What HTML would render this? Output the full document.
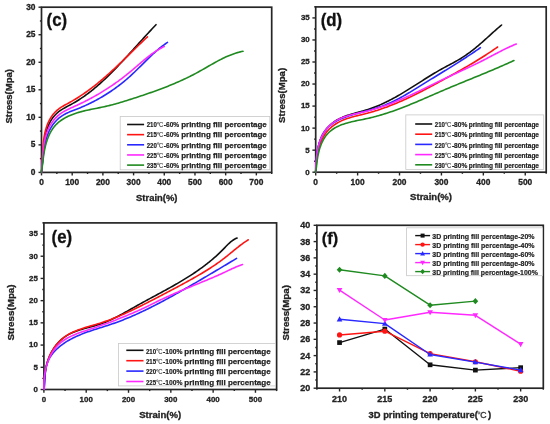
<!DOCTYPE html><html><head><meta charset="utf-8"><style>html,body{margin:0;padding:0;background:#fff;} svg{display:block;font-family:"Liberation Sans", sans-serif;will-change:transform;}</style></head><body>
<svg width="550" height="424" viewBox="0 0 550 424">
<rect width="550" height="424" fill="#fff"/>
<rect x="41.50" y="7.20" width="230.20" height="165.20" fill="none" stroke="#262626" stroke-width="1.7"/>
<line x1="41.50" y1="172.40" x2="41.50" y2="175.40" stroke="#262626" stroke-width="1.4" />
<text x="41.50" y="184.70" font-size="8.4" text-anchor="middle" font-weight="bold" fill="#222" stroke="#222" stroke-width="0.3" >0</text>
<line x1="56.85" y1="172.40" x2="56.85" y2="174.00" stroke="#262626" stroke-width="1.4" />
<line x1="72.19" y1="172.40" x2="72.19" y2="175.40" stroke="#262626" stroke-width="1.4" />
<text x="72.19" y="184.70" font-size="8.4" text-anchor="middle" font-weight="bold" fill="#222" stroke="#222" stroke-width="0.3" >100</text>
<line x1="87.54" y1="172.40" x2="87.54" y2="174.00" stroke="#262626" stroke-width="1.4" />
<line x1="102.89" y1="172.40" x2="102.89" y2="175.40" stroke="#262626" stroke-width="1.4" />
<text x="102.89" y="184.70" font-size="8.4" text-anchor="middle" font-weight="bold" fill="#222" stroke="#222" stroke-width="0.3" >200</text>
<line x1="118.23" y1="172.40" x2="118.23" y2="174.00" stroke="#262626" stroke-width="1.4" />
<line x1="133.58" y1="172.40" x2="133.58" y2="175.40" stroke="#262626" stroke-width="1.4" />
<text x="133.58" y="184.70" font-size="8.4" text-anchor="middle" font-weight="bold" fill="#222" stroke="#222" stroke-width="0.3" >300</text>
<line x1="148.93" y1="172.40" x2="148.93" y2="174.00" stroke="#262626" stroke-width="1.4" />
<line x1="164.27" y1="172.40" x2="164.27" y2="175.40" stroke="#262626" stroke-width="1.4" />
<text x="164.27" y="184.70" font-size="8.4" text-anchor="middle" font-weight="bold" fill="#222" stroke="#222" stroke-width="0.3" >400</text>
<line x1="179.62" y1="172.40" x2="179.62" y2="174.00" stroke="#262626" stroke-width="1.4" />
<line x1="194.97" y1="172.40" x2="194.97" y2="175.40" stroke="#262626" stroke-width="1.4" />
<text x="194.97" y="184.70" font-size="8.4" text-anchor="middle" font-weight="bold" fill="#222" stroke="#222" stroke-width="0.3" >500</text>
<line x1="210.31" y1="172.40" x2="210.31" y2="174.00" stroke="#262626" stroke-width="1.4" />
<line x1="225.66" y1="172.40" x2="225.66" y2="175.40" stroke="#262626" stroke-width="1.4" />
<text x="225.66" y="184.70" font-size="8.4" text-anchor="middle" font-weight="bold" fill="#222" stroke="#222" stroke-width="0.3" >600</text>
<line x1="241.01" y1="172.40" x2="241.01" y2="174.00" stroke="#262626" stroke-width="1.4" />
<line x1="256.35" y1="172.40" x2="256.35" y2="175.40" stroke="#262626" stroke-width="1.4" />
<text x="256.35" y="184.70" font-size="8.4" text-anchor="middle" font-weight="bold" fill="#222" stroke="#222" stroke-width="0.3" >700</text>
<line x1="271.70" y1="172.40" x2="271.70" y2="174.00" stroke="#262626" stroke-width="1.4" />
<line x1="41.50" y1="172.40" x2="38.50" y2="172.40" stroke="#262626" stroke-width="1.4" />
<text x="35.50" y="174.90" font-size="8.4" text-anchor="end" font-weight="bold" fill="#222" stroke="#222" stroke-width="0.3" >0</text>
<line x1="41.50" y1="158.63" x2="39.90" y2="158.63" stroke="#262626" stroke-width="1.4" />
<line x1="41.50" y1="144.87" x2="38.50" y2="144.87" stroke="#262626" stroke-width="1.4" />
<text x="35.50" y="147.37" font-size="8.4" text-anchor="end" font-weight="bold" fill="#222" stroke="#222" stroke-width="0.3" >5</text>
<line x1="41.50" y1="131.10" x2="39.90" y2="131.10" stroke="#262626" stroke-width="1.4" />
<line x1="41.50" y1="117.33" x2="38.50" y2="117.33" stroke="#262626" stroke-width="1.4" />
<text x="35.50" y="119.83" font-size="8.4" text-anchor="end" font-weight="bold" fill="#222" stroke="#222" stroke-width="0.3" >10</text>
<line x1="41.50" y1="103.57" x2="39.90" y2="103.57" stroke="#262626" stroke-width="1.4" />
<line x1="41.50" y1="89.80" x2="38.50" y2="89.80" stroke="#262626" stroke-width="1.4" />
<text x="35.50" y="92.30" font-size="8.4" text-anchor="end" font-weight="bold" fill="#222" stroke="#222" stroke-width="0.3" >15</text>
<line x1="41.50" y1="76.03" x2="39.90" y2="76.03" stroke="#262626" stroke-width="1.4" />
<line x1="41.50" y1="62.27" x2="38.50" y2="62.27" stroke="#262626" stroke-width="1.4" />
<text x="35.50" y="64.77" font-size="8.4" text-anchor="end" font-weight="bold" fill="#222" stroke="#222" stroke-width="0.3" >20</text>
<line x1="41.50" y1="48.50" x2="39.90" y2="48.50" stroke="#262626" stroke-width="1.4" />
<line x1="41.50" y1="34.73" x2="38.50" y2="34.73" stroke="#262626" stroke-width="1.4" />
<text x="35.50" y="37.23" font-size="8.4" text-anchor="end" font-weight="bold" fill="#222" stroke="#222" stroke-width="0.3" >25</text>
<line x1="41.50" y1="20.97" x2="39.90" y2="20.97" stroke="#262626" stroke-width="1.4" />
<line x1="41.50" y1="7.20" x2="38.50" y2="7.20" stroke="#262626" stroke-width="1.4" />
<text x="35.50" y="9.70" font-size="8.4" text-anchor="end" font-weight="bold" fill="#222" stroke="#222" stroke-width="0.3" >30</text>
<text x="56.90" y="25.50" font-size="17.5" text-anchor="middle" font-weight="bold" fill="#111" stroke="#111" stroke-width="0.3" textLength="20.60" lengthAdjust="spacingAndGlyphs" >(c)</text>
<text x="156.75" y="200.50" font-size="9" text-anchor="middle" font-weight="bold" fill="#222" stroke="#222" stroke-width="0.3" textLength="41.30" lengthAdjust="spacingAndGlyphs" >Strain(%)</text>
<text x="0.00" y="0.00" font-size="9" text-anchor="middle" font-weight="bold" fill="#222" stroke="#222" stroke-width="0.3" textLength="54.50" lengthAdjust="spacingAndGlyphs" transform="translate(11.6,96.25) rotate(-90)">Stress(Mpa)</text>
<path d="M41.50,172.40 L41.61,171.02 L41.73,169.64 L41.85,168.26 L41.98,166.88 L42.11,165.49 L42.24,164.11 L42.38,162.71 L42.52,161.32 L42.66,159.92 L42.81,158.51 L42.95,157.10 L43.09,155.68 L43.24,154.26 L43.38,152.83 L43.52,151.39 L43.66,149.94 L43.80,148.48 L43.95,147.03 L44.10,145.57 L44.26,144.11 L44.43,142.65 L44.62,141.19 L44.82,139.74 L45.04,138.30 L45.28,136.86 L45.55,135.44 L45.84,134.02 L46.16,132.62 L46.51,131.24 L46.89,129.87 L47.31,128.53 L47.77,127.20 L48.27,125.90 L48.81,124.62 L49.40,123.36 L50.02,122.14 L50.69,120.94 L51.41,119.78 L52.16,118.64 L52.96,117.54 L53.80,116.47 L54.69,115.44 L55.62,114.45 L56.59,113.50 L57.61,112.59 L58.67,111.72 L59.77,110.89 L60.92,110.10 L62.10,109.35 L63.31,108.63 L64.54,107.93 L65.79,107.25 L67.05,106.58 L68.32,105.91 L69.59,105.24 L70.85,104.56 L72.11,103.87 L73.35,103.17 L74.58,102.46 L75.81,101.73 L77.02,100.99 L78.22,100.24 L79.41,99.48 L80.60,98.70 L81.77,97.92 L82.94,97.12 L84.10,96.32 L85.25,95.50 L86.39,94.67 L87.52,93.84 L88.64,92.99 L89.76,92.14 L90.87,91.27 L91.97,90.40 L93.07,89.52 L94.15,88.62 L95.23,87.73 L96.31,86.82 L97.37,85.90 L98.44,84.98 L99.49,84.05 L100.54,83.11 L101.58,82.17 L102.62,81.22 L103.65,80.26 L104.68,79.30 L105.70,78.33 L106.72,77.36 L107.74,76.38 L108.74,75.39 L109.75,74.40 L110.75,73.40 L111.75,72.41 L112.74,71.40 L113.73,70.39 L114.72,69.38 L115.70,68.37 L116.68,67.35 L117.66,66.33 L118.64,65.30 L119.61,64.28 L120.58,63.25 L121.55,62.21 L122.52,61.18 L123.49,60.14 L124.45,59.11 L125.41,58.07 L126.38,57.03 L127.34,55.98 L128.29,54.94 L129.25,53.89 L130.21,52.85 L131.16,51.80 L132.12,50.75 L133.07,49.70 L134.02,48.65 L134.98,47.60 L135.93,46.55 L136.88,45.50 L137.83,44.45 L138.78,43.40 L139.73,42.35 L140.68,41.30 L141.64,40.26 L142.59,39.21 L143.54,38.16 L144.49,37.12 L145.44,36.07 L146.40,35.03 L147.35,33.99 L148.31,32.95 L149.27,31.91 L150.22,30.87 L151.18,29.84 L152.14,28.80 L153.10,27.77 L154.07,26.75 L155.03,25.72 L156.00,24.70" fill="none" stroke="#111111" stroke-width="1.6" stroke-linejoin="round" stroke-linecap="round"/>
<path d="M41.50,172.40 L41.63,171.08 L41.76,169.74 L41.86,168.39 L41.96,167.02 L42.05,165.65 L42.12,164.25 L42.20,162.85 L42.26,161.44 L42.33,160.02 L42.39,158.59 L42.45,157.15 L42.51,155.71 L42.57,154.27 L42.64,152.82 L42.71,151.36 L42.80,149.91 L42.89,148.45 L42.99,147.00 L43.10,145.55 L43.23,144.10 L43.37,142.65 L43.53,141.21 L43.71,139.77 L43.91,138.34 L44.13,136.92 L44.37,135.51 L44.64,134.11 L44.93,132.72 L45.25,131.34 L45.60,129.97 L45.99,128.62 L46.40,127.28 L46.85,125.96 L47.33,124.66 L47.86,123.37 L48.41,122.11 L49.01,120.87 L49.64,119.66 L50.32,118.47 L51.03,117.31 L51.78,116.18 L52.58,115.08 L53.42,114.02 L54.30,113.00 L55.23,112.01 L56.19,111.06 L57.21,110.15 L58.27,109.29 L59.37,108.47 L60.52,107.69 L61.69,106.93 L62.90,106.21 L64.12,105.50 L65.36,104.81 L66.61,104.12 L67.87,103.44 L69.12,102.75 L70.37,102.06 L71.60,101.36 L72.83,100.65 L74.05,99.92 L75.27,99.19 L76.47,98.45 L77.67,97.70 L78.86,96.95 L80.05,96.18 L81.23,95.41 L82.40,94.62 L83.56,93.83 L84.72,93.03 L85.87,92.23 L87.01,91.41 L88.15,90.59 L89.28,89.76 L90.41,88.92 L91.53,88.08 L92.64,87.23 L93.75,86.37 L94.86,85.51 L95.95,84.64 L97.05,83.76 L98.14,82.88 L99.22,81.99 L100.30,81.10 L101.38,80.20 L102.45,79.29 L103.52,78.38 L104.58,77.46 L105.64,76.54 L106.69,75.61 L107.75,74.68 L108.80,73.75 L109.84,72.81 L110.88,71.86 L111.92,70.91 L112.96,69.96 L113.99,69.00 L115.03,68.04 L116.06,67.08 L117.08,66.12 L118.11,65.15 L119.13,64.18 L120.15,63.20 L121.17,62.23 L122.19,61.25 L123.20,60.27 L124.22,59.29 L125.23,58.31 L126.24,57.33 L127.26,56.34 L128.27,55.36 L129.28,54.37 L130.29,53.39 L131.29,52.40 L132.30,51.42 L133.31,50.43 L134.32,49.45 L135.33,48.46 L136.34,47.48 L137.35,46.50 L138.36,45.52 L139.37,44.54 L140.38,43.57 L141.40,42.59 L142.41,41.62 L143.42,40.65 L144.44,39.68 L145.46,38.72 L146.48,37.76 L147.50,36.80" fill="none" stroke="#ff1414" stroke-width="1.6" stroke-linejoin="round" stroke-linecap="round"/>
<path d="M41.50,172.40 L41.66,171.12 L41.81,169.82 L41.95,168.49 L42.09,167.15 L42.22,165.78 L42.36,164.40 L42.49,163.00 L42.63,161.60 L42.77,160.17 L42.92,158.74 L43.07,157.30 L43.23,155.86 L43.40,154.41 L43.58,152.96 L43.77,151.50 L43.98,150.05 L44.20,148.60 L44.44,147.15 L44.71,145.71 L44.99,144.27 L45.29,142.85 L45.62,141.44 L45.97,140.04 L46.35,138.65 L46.76,137.28 L47.20,135.93 L47.67,134.60 L48.17,133.29 L48.71,132.00 L49.29,130.74 L49.90,129.50 L50.56,128.29 L51.25,127.11 L51.98,125.97 L52.74,124.85 L53.55,123.76 L54.39,122.71 L55.27,121.69 L56.19,120.71 L57.14,119.76 L58.13,118.85 L59.15,117.97 L60.21,117.14 L61.30,116.34 L62.43,115.59 L63.60,114.87 L64.79,114.20 L66.02,113.56 L67.27,112.96 L68.55,112.38 L69.84,111.83 L71.15,111.29 L72.48,110.77 L73.81,110.25 L75.14,109.74 L76.47,109.22 L77.80,108.70 L79.13,108.18 L80.44,107.64 L81.76,107.09 L83.06,106.53 L84.36,105.96 L85.65,105.38 L86.94,104.79 L88.22,104.19 L89.49,103.58 L90.76,102.96 L92.02,102.34 L93.28,101.70 L94.52,101.05 L95.77,100.39 L97.00,99.73 L98.23,99.05 L99.45,98.36 L100.67,97.67 L101.88,96.96 L103.08,96.25 L104.28,95.53 L105.47,94.79 L106.65,94.05 L107.83,93.30 L109.00,92.53 L110.17,91.76 L111.32,90.98 L112.48,90.19 L113.62,89.39 L114.76,88.59 L115.89,87.77 L117.02,86.94 L118.13,86.10 L119.25,85.26 L120.35,84.40 L121.45,83.54 L122.54,82.67 L123.63,81.79 L124.71,80.89 L125.78,79.99 L126.85,79.09 L127.90,78.17 L128.96,77.24 L130.00,76.30 L131.04,75.36 L132.07,74.41 L133.10,73.44 L134.12,72.48 L135.14,71.50 L136.15,70.52 L137.16,69.53 L138.16,68.55 L139.17,67.55 L140.17,66.56 L141.17,65.56 L142.17,64.56 L143.17,63.57 L144.17,62.57 L145.17,61.58 L146.17,60.58 L147.18,59.59 L148.18,58.61 L149.20,57.63 L150.21,56.65 L151.23,55.68 L152.26,54.72 L153.29,53.76 L154.33,52.81 L155.37,51.88 L156.43,50.95 L157.49,50.03 L158.56,49.13 L159.63,48.24 L160.72,47.36 L161.82,46.49 L162.93,45.64 L164.06,44.81 L165.19,43.99 L166.34,43.18 L167.50,42.40" fill="none" stroke="#2828ff" stroke-width="1.6" stroke-linejoin="round" stroke-linecap="round"/>
<path d="M41.50,172.40 L41.62,171.10 L41.72,169.79 L41.83,168.45 L41.92,167.10 L42.01,165.73 L42.10,164.34 L42.19,162.94 L42.29,161.53 L42.38,160.10 L42.48,158.67 L42.58,157.23 L42.69,155.79 L42.81,154.34 L42.94,152.88 L43.08,151.43 L43.24,149.97 L43.41,148.52 L43.59,147.06 L43.80,145.62 L44.02,144.18 L44.27,142.74 L44.54,141.32 L44.83,139.90 L45.15,138.50 L45.50,137.11 L45.87,135.73 L46.28,134.37 L46.72,133.03 L47.19,131.71 L47.70,130.41 L48.24,129.13 L48.82,127.88 L49.45,126.65 L50.11,125.44 L50.81,124.27 L51.54,123.12 L52.32,122.00 L53.13,120.91 L53.98,119.86 L54.86,118.83 L55.78,117.84 L56.74,116.88 L57.74,115.96 L58.77,115.08 L59.83,114.23 L60.93,113.42 L62.07,112.66 L63.23,111.93 L64.43,111.23 L65.65,110.56 L66.89,109.92 L68.15,109.29 L69.43,108.69 L70.72,108.09 L72.01,107.51 L73.31,106.93 L74.61,106.34 L75.91,105.76 L77.20,105.16 L78.48,104.56 L79.77,103.96 L81.04,103.34 L82.32,102.72 L83.58,102.10 L84.85,101.47 L86.11,100.83 L87.36,100.18 L88.61,99.53 L89.85,98.87 L91.09,98.20 L92.33,97.53 L93.56,96.85 L94.79,96.17 L96.01,95.47 L97.23,94.77 L98.44,94.07 L99.65,93.36 L100.85,92.64 L102.05,91.91 L103.24,91.18 L104.43,90.44 L105.62,89.69 L106.80,88.94 L107.97,88.18 L109.14,87.42 L110.31,86.64 L111.47,85.86 L112.63,85.08 L113.78,84.28 L114.93,83.48 L116.07,82.68 L117.21,81.86 L118.34,81.04 L119.47,80.22 L120.60,79.38 L121.72,78.54 L122.84,77.69 L123.95,76.84 L125.06,75.98 L126.16,75.11 L127.26,74.23 L128.35,73.35 L129.44,72.46 L130.52,71.57 L131.60,70.66 L132.68,69.76 L133.75,68.84 L134.82,67.93 L135.89,67.01 L136.96,66.09 L138.03,65.17 L139.10,64.25 L140.16,63.33 L141.24,62.41 L142.31,61.50 L143.39,60.60 L144.47,59.70 L145.56,58.81 L146.65,57.92 L147.75,57.05 L148.85,56.19 L149.97,55.34 L151.09,54.51 L152.22,53.68 L153.36,52.88 L154.51,52.09 L155.68,51.31 L156.85,50.56 L158.04,49.83 L159.24,49.12 L160.46,48.43 L161.69,47.76 L162.94,47.12 L164.20,46.50" fill="none" stroke="#ff28ff" stroke-width="1.6" stroke-linejoin="round" stroke-linecap="round"/>
<path d="M41.50,172.40 L41.69,171.03 L41.87,169.65 L42.04,168.26 L42.21,166.86 L42.38,165.45 L42.54,164.03 L42.71,162.61 L42.88,161.18 L43.06,159.74 L43.25,158.31 L43.44,156.87 L43.65,155.43 L43.87,153.99 L44.10,152.55 L44.36,151.11 L44.63,149.68 L44.92,148.24 L45.24,146.82 L45.58,145.40 L45.95,143.99 L46.35,142.58 L46.78,141.19 L47.24,139.80 L47.74,138.43 L48.26,137.08 L48.83,135.75 L49.43,134.44 L50.06,133.15 L50.74,131.90 L51.45,130.67 L52.20,129.47 L53.00,128.31 L53.83,127.19 L54.71,126.10 L55.64,125.06 L56.60,124.07 L57.61,123.11 L58.66,122.21 L59.75,121.34 L60.87,120.51 L62.01,119.72 L63.19,118.97 L64.38,118.26 L65.60,117.58 L66.83,116.94 L68.09,116.32 L69.36,115.74 L70.65,115.18 L71.95,114.66 L73.27,114.16 L74.60,113.68 L75.94,113.23 L77.30,112.79 L78.67,112.38 L80.05,111.99 L81.44,111.61 L82.84,111.25 L84.24,110.90 L85.65,110.57 L87.07,110.25 L88.50,109.93 L89.92,109.63 L91.36,109.33 L92.79,109.04 L94.23,108.75 L95.66,108.46 L97.10,108.17 L98.53,107.89 L99.97,107.60 L101.40,107.31 L102.83,107.01 L104.25,106.70 L105.67,106.39 L107.08,106.07 L108.48,105.74 L109.88,105.39 L111.28,105.04 L112.66,104.68 L114.04,104.31 L115.42,103.93 L116.79,103.55 L118.16,103.15 L119.52,102.75 L120.89,102.35 L122.25,101.94 L123.60,101.52 L124.96,101.10 L126.31,100.67 L127.66,100.25 L129.01,99.82 L130.37,99.38 L131.72,98.95 L133.07,98.52 L134.42,98.08 L135.78,97.64 L137.13,97.20 L138.48,96.75 L139.83,96.31 L141.19,95.86 L142.54,95.41 L143.89,94.95 L145.24,94.49 L146.59,94.03 L147.94,93.57 L149.29,93.10 L150.64,92.63 L151.99,92.16 L153.33,91.68 L154.68,91.20 L156.02,90.71 L157.36,90.22 L158.71,89.73 L160.05,89.23 L161.39,88.73 L162.72,88.22 L164.06,87.71 L165.39,87.19 L166.72,86.67 L168.05,86.14 L169.38,85.61 L170.71,85.07 L172.03,84.52 L173.35,83.97 L174.67,83.41 L175.99,82.85 L177.30,82.28 L178.62,81.71 L179.93,81.13 L181.23,80.54 L182.54,79.94 L183.84,79.34 L185.13,78.73 L186.43,78.11 L187.72,77.49 L189.01,76.86 L190.29,76.22 L191.57,75.57 L192.85,74.92 L194.13,74.26 L195.40,73.59 L196.66,72.91 L197.93,72.22 L199.19,71.53 L200.44,70.82 L201.69,70.12 L202.95,69.40 L204.19,68.69 L205.44,67.97 L206.69,67.25 L207.93,66.53 L209.18,65.81 L210.43,65.10 L211.67,64.39 L212.92,63.68 L214.17,62.98 L215.42,62.28 L216.68,61.59 L217.93,60.91 L219.19,60.25 L220.46,59.59 L221.73,58.95 L223.00,58.32 L224.28,57.70 L225.57,57.10 L226.86,56.52 L228.16,55.96 L229.46,55.41 L230.77,54.89 L232.09,54.39 L233.42,53.91 L234.76,53.45 L236.11,53.02 L237.46,52.62 L238.83,52.24 L240.21,51.90 L241.60,51.58 L243.00,51.29" fill="none" stroke="#1f8a1f" stroke-width="1.6" stroke-linejoin="round" stroke-linecap="round"/>
<rect x="120.2" y="116.5" width="149.6" height="53.3" fill="#fff" stroke="#c8c8c8" stroke-width="0.8"/>
<line x1="127.10" y1="124.50" x2="144.10" y2="124.50" stroke="#111111" stroke-width="1.6" />
<text x="146.70" y="127.20" font-size="7.2" text-anchor="start" font-weight="bold" fill="#222" stroke="#222" stroke-width="0.2" textLength="10.20" lengthAdjust="spacingAndGlyphs" >210</text>
<circle cx="158.10" cy="123.20" r="0.85" fill="none" stroke="#333" stroke-width="0.6"/>
<text x="159.00" y="127.20" font-size="6.6" text-anchor="start" font-weight="normal" fill="#333" stroke="#333" stroke-width="0.1" textLength="4.30" lengthAdjust="spacingAndGlyphs" >C</text>
<text x="163.80" y="127.20" font-size="7.2" text-anchor="start" font-weight="bold" fill="#222" stroke="#222" stroke-width="0.2" textLength="15.40" lengthAdjust="spacingAndGlyphs" >-60%</text>
<text x="181.20" y="127.20" font-size="8" text-anchor="start" font-weight="bold" fill="#222" stroke="#222" stroke-width="0.25" textLength="85.60" lengthAdjust="spacingAndGlyphs" >printing fill percentage</text>
<line x1="127.10" y1="134.65" x2="144.10" y2="134.65" stroke="#ff1414" stroke-width="1.6" />
<text x="146.70" y="137.35" font-size="7.2" text-anchor="start" font-weight="bold" fill="#222" stroke="#222" stroke-width="0.2" textLength="10.20" lengthAdjust="spacingAndGlyphs" >215</text>
<circle cx="158.10" cy="133.35" r="0.85" fill="none" stroke="#333" stroke-width="0.6"/>
<text x="159.00" y="137.35" font-size="6.6" text-anchor="start" font-weight="normal" fill="#333" stroke="#333" stroke-width="0.1" textLength="4.30" lengthAdjust="spacingAndGlyphs" >C</text>
<text x="163.80" y="137.35" font-size="7.2" text-anchor="start" font-weight="bold" fill="#222" stroke="#222" stroke-width="0.2" textLength="15.40" lengthAdjust="spacingAndGlyphs" >-60%</text>
<text x="181.20" y="137.35" font-size="8" text-anchor="start" font-weight="bold" fill="#222" stroke="#222" stroke-width="0.25" textLength="85.60" lengthAdjust="spacingAndGlyphs" >printing fill percentage</text>
<line x1="127.10" y1="144.80" x2="144.10" y2="144.80" stroke="#2828ff" stroke-width="1.6" />
<text x="146.70" y="147.50" font-size="7.2" text-anchor="start" font-weight="bold" fill="#222" stroke="#222" stroke-width="0.2" textLength="10.20" lengthAdjust="spacingAndGlyphs" >220</text>
<circle cx="158.10" cy="143.50" r="0.85" fill="none" stroke="#333" stroke-width="0.6"/>
<text x="159.00" y="147.50" font-size="6.6" text-anchor="start" font-weight="normal" fill="#333" stroke="#333" stroke-width="0.1" textLength="4.30" lengthAdjust="spacingAndGlyphs" >C</text>
<text x="163.80" y="147.50" font-size="7.2" text-anchor="start" font-weight="bold" fill="#222" stroke="#222" stroke-width="0.2" textLength="15.40" lengthAdjust="spacingAndGlyphs" >-60%</text>
<text x="181.20" y="147.50" font-size="8" text-anchor="start" font-weight="bold" fill="#222" stroke="#222" stroke-width="0.25" textLength="85.60" lengthAdjust="spacingAndGlyphs" >printing fill percentage</text>
<line x1="127.10" y1="154.95" x2="144.10" y2="154.95" stroke="#ff28ff" stroke-width="1.6" />
<text x="146.70" y="157.65" font-size="7.2" text-anchor="start" font-weight="bold" fill="#222" stroke="#222" stroke-width="0.2" textLength="10.20" lengthAdjust="spacingAndGlyphs" >225</text>
<circle cx="158.10" cy="153.65" r="0.85" fill="none" stroke="#333" stroke-width="0.6"/>
<text x="159.00" y="157.65" font-size="6.6" text-anchor="start" font-weight="normal" fill="#333" stroke="#333" stroke-width="0.1" textLength="4.30" lengthAdjust="spacingAndGlyphs" >C</text>
<text x="163.80" y="157.65" font-size="7.2" text-anchor="start" font-weight="bold" fill="#222" stroke="#222" stroke-width="0.2" textLength="15.40" lengthAdjust="spacingAndGlyphs" >-60%</text>
<text x="181.20" y="157.65" font-size="8" text-anchor="start" font-weight="bold" fill="#222" stroke="#222" stroke-width="0.25" textLength="85.60" lengthAdjust="spacingAndGlyphs" >printing fill percentage</text>
<line x1="127.10" y1="165.10" x2="144.10" y2="165.10" stroke="#1f8a1f" stroke-width="1.6" />
<text x="146.70" y="167.80" font-size="7.2" text-anchor="start" font-weight="bold" fill="#222" stroke="#222" stroke-width="0.2" textLength="10.20" lengthAdjust="spacingAndGlyphs" >235</text>
<circle cx="158.10" cy="163.80" r="0.85" fill="none" stroke="#333" stroke-width="0.6"/>
<text x="159.00" y="167.80" font-size="6.6" text-anchor="start" font-weight="normal" fill="#333" stroke="#333" stroke-width="0.1" textLength="4.30" lengthAdjust="spacingAndGlyphs" >C</text>
<text x="163.80" y="167.80" font-size="7.2" text-anchor="start" font-weight="bold" fill="#222" stroke="#222" stroke-width="0.2" textLength="15.40" lengthAdjust="spacingAndGlyphs" >-60%</text>
<text x="181.20" y="167.80" font-size="8" text-anchor="start" font-weight="bold" fill="#222" stroke="#222" stroke-width="0.25" textLength="85.60" lengthAdjust="spacingAndGlyphs" >printing fill percentage</text>
<rect x="315.70" y="6.90" width="230.50" height="165.30" fill="none" stroke="#262626" stroke-width="1.7"/>
<line x1="315.70" y1="172.20" x2="315.70" y2="175.50" stroke="#262626" stroke-width="1.4" />
<text x="315.70" y="184.50" font-size="8.4" text-anchor="middle" font-weight="bold" fill="#222" stroke="#222" stroke-width="0.3" >0</text>
<line x1="336.65" y1="172.20" x2="336.65" y2="173.80" stroke="#262626" stroke-width="1.4" />
<line x1="357.61" y1="172.20" x2="357.61" y2="175.50" stroke="#262626" stroke-width="1.4" />
<text x="357.61" y="184.50" font-size="8.4" text-anchor="middle" font-weight="bold" fill="#222" stroke="#222" stroke-width="0.3" >100</text>
<line x1="378.56" y1="172.20" x2="378.56" y2="173.80" stroke="#262626" stroke-width="1.4" />
<line x1="399.52" y1="172.20" x2="399.52" y2="175.50" stroke="#262626" stroke-width="1.4" />
<text x="399.52" y="184.50" font-size="8.4" text-anchor="middle" font-weight="bold" fill="#222" stroke="#222" stroke-width="0.3" >200</text>
<line x1="420.47" y1="172.20" x2="420.47" y2="173.80" stroke="#262626" stroke-width="1.4" />
<line x1="441.43" y1="172.20" x2="441.43" y2="175.50" stroke="#262626" stroke-width="1.4" />
<text x="441.43" y="184.50" font-size="8.4" text-anchor="middle" font-weight="bold" fill="#222" stroke="#222" stroke-width="0.3" >300</text>
<line x1="462.38" y1="172.20" x2="462.38" y2="173.80" stroke="#262626" stroke-width="1.4" />
<line x1="483.34" y1="172.20" x2="483.34" y2="175.50" stroke="#262626" stroke-width="1.4" />
<text x="483.34" y="184.50" font-size="8.4" text-anchor="middle" font-weight="bold" fill="#222" stroke="#222" stroke-width="0.3" >400</text>
<line x1="504.29" y1="172.20" x2="504.29" y2="173.80" stroke="#262626" stroke-width="1.4" />
<line x1="525.25" y1="172.20" x2="525.25" y2="175.50" stroke="#262626" stroke-width="1.4" />
<text x="525.25" y="184.50" font-size="8.4" text-anchor="middle" font-weight="bold" fill="#222" stroke="#222" stroke-width="0.3" >500</text>
<line x1="546.20" y1="172.20" x2="546.20" y2="173.80" stroke="#262626" stroke-width="1.4" />
<line x1="315.70" y1="172.20" x2="312.40" y2="172.20" stroke="#262626" stroke-width="1.4" />
<text x="309.70" y="174.60" font-size="7.9" text-anchor="end" font-weight="bold" fill="#222" stroke="#222" stroke-width="0.3" >0</text>
<line x1="315.70" y1="161.18" x2="314.10" y2="161.18" stroke="#262626" stroke-width="1.4" />
<line x1="315.70" y1="150.16" x2="312.40" y2="150.16" stroke="#262626" stroke-width="1.4" />
<text x="309.70" y="152.56" font-size="7.9" text-anchor="end" font-weight="bold" fill="#222" stroke="#222" stroke-width="0.3" >5</text>
<line x1="315.70" y1="139.14" x2="314.10" y2="139.14" stroke="#262626" stroke-width="1.4" />
<line x1="315.70" y1="128.12" x2="312.40" y2="128.12" stroke="#262626" stroke-width="1.4" />
<text x="309.70" y="130.52" font-size="7.9" text-anchor="end" font-weight="bold" fill="#222" stroke="#222" stroke-width="0.3" >10</text>
<line x1="315.70" y1="117.10" x2="314.10" y2="117.10" stroke="#262626" stroke-width="1.4" />
<line x1="315.70" y1="106.08" x2="312.40" y2="106.08" stroke="#262626" stroke-width="1.4" />
<text x="309.70" y="108.48" font-size="7.9" text-anchor="end" font-weight="bold" fill="#222" stroke="#222" stroke-width="0.3" >15</text>
<line x1="315.70" y1="95.06" x2="314.10" y2="95.06" stroke="#262626" stroke-width="1.4" />
<line x1="315.70" y1="84.04" x2="312.40" y2="84.04" stroke="#262626" stroke-width="1.4" />
<text x="309.70" y="86.44" font-size="7.9" text-anchor="end" font-weight="bold" fill="#222" stroke="#222" stroke-width="0.3" >20</text>
<line x1="315.70" y1="73.02" x2="314.10" y2="73.02" stroke="#262626" stroke-width="1.4" />
<line x1="315.70" y1="62.00" x2="312.40" y2="62.00" stroke="#262626" stroke-width="1.4" />
<text x="309.70" y="64.40" font-size="7.9" text-anchor="end" font-weight="bold" fill="#222" stroke="#222" stroke-width="0.3" >25</text>
<line x1="315.70" y1="50.98" x2="314.10" y2="50.98" stroke="#262626" stroke-width="1.4" />
<line x1="315.70" y1="39.96" x2="312.40" y2="39.96" stroke="#262626" stroke-width="1.4" />
<text x="309.70" y="42.36" font-size="7.9" text-anchor="end" font-weight="bold" fill="#222" stroke="#222" stroke-width="0.3" >30</text>
<line x1="315.70" y1="28.94" x2="314.10" y2="28.94" stroke="#262626" stroke-width="1.4" />
<line x1="315.70" y1="17.92" x2="312.40" y2="17.92" stroke="#262626" stroke-width="1.4" />
<text x="309.70" y="20.32" font-size="7.9" text-anchor="end" font-weight="bold" fill="#222" stroke="#222" stroke-width="0.3" >35</text>
<line x1="315.70" y1="6.90" x2="314.10" y2="6.90" stroke="#262626" stroke-width="1.4" />
<text x="331.45" y="25.80" font-size="17.5" text-anchor="middle" font-weight="bold" fill="#111" stroke="#111" stroke-width="0.3" textLength="21.50" lengthAdjust="spacingAndGlyphs" >(d)</text>
<text x="431.05" y="200.30" font-size="9" text-anchor="middle" font-weight="bold" fill="#222" stroke="#222" stroke-width="0.3" textLength="41.90" lengthAdjust="spacingAndGlyphs" >Strain(%)</text>
<text x="0.00" y="0.00" font-size="9" text-anchor="middle" font-weight="bold" fill="#222" stroke="#222" stroke-width="0.3" textLength="55.00" lengthAdjust="spacingAndGlyphs" transform="translate(285.4,95.4) rotate(-90)">Stress(Mpa)</text>
<path d="M315.70,172.20 L315.74,170.87 L315.78,169.51 L315.83,168.14 L315.88,166.74 L315.95,165.32 L316.03,163.89 L316.12,162.45 L316.23,160.99 L316.35,159.53 L316.49,158.06 L316.65,156.58 L316.83,155.10 L317.04,153.63 L317.26,152.15 L317.51,150.68 L317.78,149.22 L318.09,147.76 L318.42,146.32 L318.78,144.89 L319.17,143.47 L319.60,142.08 L320.06,140.70 L320.55,139.34 L321.08,138.01 L321.66,136.71 L322.27,135.44 L322.92,134.19 L323.62,132.98 L324.35,131.81 L325.14,130.67 L325.96,129.56 L326.82,128.49 L327.72,127.46 L328.66,126.46 L329.63,125.50 L330.64,124.58 L331.68,123.69 L332.76,122.84 L333.86,122.03 L335.00,121.25 L336.16,120.51 L337.35,119.81 L338.57,119.15 L339.80,118.52 L341.07,117.93 L342.35,117.36 L343.65,116.83 L344.97,116.32 L346.31,115.84 L347.66,115.37 L349.03,114.93 L350.40,114.50 L351.79,114.08 L353.18,113.68 L354.59,113.28 L355.99,112.89 L357.40,112.51 L358.81,112.12 L360.22,111.74 L361.63,111.35 L363.04,110.95 L364.45,110.55 L365.84,110.14 L367.23,109.71 L368.61,109.26 L369.98,108.80 L371.35,108.33 L372.70,107.84 L374.05,107.33 L375.38,106.82 L376.71,106.28 L378.04,105.74 L379.35,105.18 L380.66,104.61 L381.96,104.03 L383.25,103.43 L384.54,102.83 L385.82,102.21 L387.10,101.58 L388.37,100.95 L389.63,100.30 L390.89,99.64 L392.14,98.98 L393.39,98.30 L394.64,97.62 L395.88,96.93 L397.11,96.23 L398.35,95.53 L399.57,94.82 L400.80,94.10 L402.02,93.37 L403.24,92.65 L404.45,91.91 L405.67,91.17 L406.88,90.43 L408.09,89.68 L409.30,88.93 L410.50,88.18 L411.71,87.42 L412.91,86.66 L414.11,85.90 L415.31,85.14 L416.52,84.38 L417.72,83.61 L418.92,82.85 L420.12,82.09 L421.32,81.32 L422.53,80.56 L423.73,79.80 L424.93,79.04 L426.14,78.28 L427.35,77.52 L428.56,76.77 L429.77,76.02 L430.99,75.27 L432.20,74.53 L433.42,73.79 L434.65,73.05 L435.87,72.33 L437.10,71.60 L438.34,70.88 L439.58,70.17 L440.82,69.47 L442.07,68.77 L443.32,68.08 L444.57,67.40 L445.83,66.72 L447.10,66.05 L448.36,65.38 L449.63,64.71 L450.89,64.04 L452.15,63.37 L453.41,62.70 L454.66,62.01 L455.91,61.32 L457.16,60.62 L458.39,59.91 L459.62,59.19 L460.83,58.45 L462.04,57.69 L463.23,56.92 L464.42,56.14 L465.60,55.34 L466.76,54.53 L467.92,53.71 L469.07,52.87 L470.22,52.03 L471.35,51.17 L472.48,50.30 L473.60,49.42 L474.72,48.53 L475.83,47.64 L476.93,46.73 L478.02,45.81 L479.11,44.89 L480.20,43.96 L481.28,43.02 L482.36,42.07 L483.43,41.12 L484.50,40.17 L485.56,39.21 L486.63,38.25 L487.69,37.28 L488.75,36.32 L489.81,35.36 L490.87,34.39 L491.93,33.43 L493.00,32.47 L494.06,31.52 L495.13,30.57 L496.20,29.62 L497.27,28.68 L498.34,27.75 L499.42,26.82 L500.51,25.91 L501.60,25.00" fill="none" stroke="#111111" stroke-width="1.6" stroke-linejoin="round" stroke-linecap="round"/>
<path d="M315.70,172.20 L315.78,170.87 L315.87,169.52 L315.96,168.15 L316.06,166.76 L316.18,165.35 L316.31,163.93 L316.45,162.49 L316.61,161.05 L316.78,159.60 L316.98,158.14 L317.19,156.68 L317.43,155.22 L317.69,153.76 L317.97,152.31 L318.28,150.86 L318.62,149.42 L318.98,147.99 L319.38,146.58 L319.81,145.18 L320.27,143.80 L320.77,142.44 L321.30,141.10 L321.88,139.79 L322.49,138.51 L323.14,137.25 L323.84,136.03 L324.58,134.84 L325.36,133.69 L326.18,132.58 L327.05,131.50 L327.96,130.46 L328.91,129.45 L329.89,128.49 L330.90,127.56 L331.95,126.66 L333.03,125.81 L334.14,124.99 L335.28,124.21 L336.45,123.46 L337.64,122.76 L338.85,122.09 L340.09,121.46 L341.34,120.86 L342.61,120.30 L343.91,119.77 L345.22,119.27 L346.54,118.79 L347.88,118.34 L349.23,117.91 L350.59,117.49 L351.96,117.10 L353.34,116.72 L354.73,116.35 L356.13,115.99 L357.52,115.64 L358.93,115.29 L360.33,114.95 L361.74,114.61 L363.15,114.26 L364.55,113.92 L365.96,113.56 L367.36,113.20 L368.75,112.83 L370.14,112.44 L371.52,112.05 L372.90,111.65 L374.28,111.24 L375.65,110.82 L377.02,110.39 L378.38,109.95 L379.74,109.50 L381.09,109.04 L382.44,108.57 L383.79,108.10 L385.13,107.62 L386.47,107.13 L387.80,106.63 L389.13,106.12 L390.46,105.61 L391.78,105.09 L393.10,104.56 L394.42,104.02 L395.73,103.48 L397.04,102.93 L398.35,102.37 L399.65,101.81 L400.95,101.24 L402.25,100.67 L403.55,100.09 L404.84,99.50 L406.13,98.91 L407.42,98.31 L408.70,97.71 L409.98,97.10 L411.26,96.49 L412.54,95.87 L413.82,95.25 L415.09,94.62 L416.36,93.99 L417.63,93.36 L418.90,92.72 L420.17,92.07 L421.43,91.43 L422.70,90.78 L423.96,90.12 L425.22,89.47 L426.48,88.81 L427.73,88.15 L428.99,87.48 L430.25,86.81 L431.50,86.14 L432.75,85.47 L434.01,84.80 L435.26,84.12 L436.51,83.44 L437.76,82.77 L439.01,82.09 L440.26,81.41 L441.51,80.72 L442.76,80.04 L444.01,79.36 L445.25,78.67 L446.50,77.99 L447.75,77.30 L449.00,76.61 L450.24,75.93 L451.49,75.24 L452.74,74.55 L453.98,73.85 L455.22,73.16 L456.47,72.47 L457.71,71.77 L458.95,71.07 L460.19,70.37 L461.43,69.67 L462.66,68.96 L463.90,68.25 L465.13,67.54 L466.37,66.83 L467.60,66.11 L468.83,65.40 L470.05,64.67 L471.28,63.95 L472.50,63.22 L473.72,62.49 L474.94,61.76 L476.16,61.02 L477.38,60.28 L478.59,59.53 L479.80,58.78 L481.01,58.03 L482.21,57.27 L483.41,56.51 L484.61,55.74 L485.81,54.97 L487.00,54.20 L488.19,53.42 L489.38,52.63 L490.56,51.85 L491.75,51.05 L492.92,50.25 L494.10,49.45 L495.27,48.64 L496.44,47.82 L497.60,47.00" fill="none" stroke="#ff1414" stroke-width="1.6" stroke-linejoin="round" stroke-linecap="round"/>
<path d="M315.70,172.20 L315.75,170.89 L315.81,169.55 L315.87,168.18 L315.93,166.80 L316.00,165.39 L316.08,163.97 L316.17,162.54 L316.27,161.09 L316.39,159.63 L316.52,158.17 L316.67,156.70 L316.84,155.22 L317.02,153.75 L317.23,152.28 L317.47,150.81 L317.72,149.36 L318.01,147.91 L318.32,146.47 L318.67,145.05 L319.04,143.64 L319.45,142.25 L319.90,140.89 L320.38,139.54 L320.90,138.23 L321.46,136.94 L322.06,135.68 L322.71,134.46 L323.40,133.27 L324.13,132.12 L324.92,131.01 L325.74,129.94 L326.61,128.90 L327.52,127.90 L328.47,126.94 L329.46,126.02 L330.48,125.13 L331.54,124.28 L332.63,123.46 L333.76,122.68 L334.91,121.94 L336.10,121.23 L337.31,120.56 L338.55,119.92 L339.81,119.31 L341.10,118.74 L342.40,118.20 L343.73,117.68 L345.06,117.19 L346.42,116.71 L347.78,116.26 L349.15,115.82 L350.52,115.40 L351.90,114.99 L353.29,114.58 L354.67,114.19 L356.06,113.80 L357.44,113.41 L358.83,113.03 L360.21,112.65 L361.60,112.28 L362.98,111.91 L364.37,111.53 L365.75,111.16 L367.13,110.78 L368.50,110.40 L369.88,110.01 L371.25,109.62 L372.62,109.23 L373.98,108.82 L375.34,108.41 L376.69,107.98 L378.04,107.55 L379.38,107.10 L380.72,106.64 L382.04,106.16 L383.37,105.67 L384.68,105.17 L385.99,104.64 L387.29,104.10 L388.58,103.55 L389.87,102.98 L391.15,102.39 L392.42,101.79 L393.69,101.18 L394.95,100.56 L396.21,99.92 L397.46,99.28 L398.71,98.62 L399.95,97.95 L401.19,97.27 L402.43,96.59 L403.66,95.89 L404.88,95.19 L406.11,94.48 L407.33,93.77 L408.55,93.04 L409.76,92.32 L410.98,91.59 L412.19,90.85 L413.40,90.11 L414.61,89.37 L415.81,88.62 L417.02,87.88 L418.23,87.13 L419.43,86.38 L420.64,85.63 L421.84,84.89 L423.05,84.14 L424.25,83.39 L425.46,82.65 L426.67,81.91 L427.87,81.16 L429.08,80.42 L430.29,79.68 L431.50,78.94 L432.70,78.20 L433.91,77.46 L435.12,76.72 L436.33,75.98 L437.53,75.25 L438.74,74.51 L439.95,73.77 L441.15,73.03 L442.36,72.29 L443.56,71.55 L444.77,70.80 L445.97,70.06 L447.18,69.32 L448.38,68.57 L449.58,67.83 L450.78,67.08 L451.98,66.33 L453.18,65.59 L454.38,64.83 L455.58,64.08 L456.78,63.33 L457.97,62.57 L459.17,61.81 L460.36,61.05 L461.55,60.29 L462.74,59.53 L463.93,58.76 L465.12,57.99 L466.30,57.22 L467.49,56.44 L468.67,55.66 L469.85,54.88 L471.03,54.10 L472.21,53.31 L473.39,52.52 L474.56,51.73 L475.73,50.93 L476.90,50.13 L478.07,49.32 L479.24,48.51 L480.40,47.70" fill="none" stroke="#2828ff" stroke-width="1.6" stroke-linejoin="round" stroke-linecap="round"/>
<path d="M315.70,172.20 L315.72,170.86 L315.75,169.50 L315.78,168.12 L315.83,166.72 L315.89,165.30 L315.97,163.86 L316.06,162.41 L316.17,160.95 L316.29,159.48 L316.44,158.00 L316.60,156.52 L316.79,155.03 L317.00,153.55 L317.23,152.07 L317.49,150.59 L317.78,149.12 L318.09,147.66 L318.43,146.21 L318.81,144.78 L319.21,143.36 L319.65,141.96 L320.12,140.58 L320.63,139.23 L321.18,137.90 L321.76,136.59 L322.38,135.32 L323.05,134.08 L323.75,132.87 L324.50,131.70 L325.29,130.57 L326.12,129.47 L326.99,128.41 L327.90,127.39 L328.84,126.41 L329.82,125.46 L330.83,124.55 L331.88,123.68 L332.95,122.85 L334.06,122.05 L335.20,121.30 L336.37,120.58 L337.56,119.91 L338.78,119.27 L340.03,118.67 L341.29,118.11 L342.58,117.58 L343.89,117.08 L345.22,116.61 L346.57,116.16 L347.93,115.74 L349.30,115.34 L350.69,114.95 L352.09,114.58 L353.50,114.23 L354.91,113.89 L356.33,113.55 L357.76,113.22 L359.19,112.90 L360.63,112.58 L362.06,112.26 L363.49,111.93 L364.92,111.60 L366.35,111.26 L367.77,110.91 L369.18,110.55 L370.59,110.18 L371.99,109.79 L373.39,109.40 L374.78,108.99 L376.17,108.58 L377.55,108.16 L378.92,107.72 L380.29,107.28 L381.66,106.83 L383.02,106.36 L384.38,105.89 L385.73,105.41 L387.08,104.93 L388.42,104.43 L389.76,103.93 L391.09,103.42 L392.42,102.90 L393.75,102.38 L395.07,101.84 L396.39,101.30 L397.71,100.76 L399.03,100.21 L400.34,99.65 L401.65,99.09 L402.95,98.52 L404.25,97.95 L405.55,97.37 L406.85,96.79 L408.15,96.20 L409.44,95.61 L410.73,95.01 L412.03,94.41 L413.31,93.81 L414.60,93.20 L415.89,92.59 L417.17,91.98 L418.46,91.36 L419.74,90.75 L421.02,90.13 L422.30,89.51 L423.58,88.88 L424.86,88.26 L426.14,87.63 L427.42,87.01 L428.71,86.38 L429.99,85.75 L431.27,85.12 L432.55,84.50 L433.83,83.87 L435.11,83.24 L436.40,82.61 L437.68,81.99 L438.97,81.36 L440.25,80.74 L441.54,80.12 L442.83,79.50 L444.12,78.88 L445.42,78.27 L446.71,77.66 L448.01,77.04 L449.30,76.43 L450.60,75.83 L451.90,75.22 L453.20,74.61 L454.50,74.01 L455.81,73.40 L457.11,72.80 L458.41,72.19 L459.71,71.59 L461.02,70.98 L462.32,70.37 L463.62,69.77 L464.92,69.16 L466.22,68.55 L467.52,67.94 L468.82,67.33 L470.12,66.72 L471.41,66.10 L472.71,65.48 L474.00,64.86 L475.29,64.24 L476.58,63.61 L477.87,62.99 L479.16,62.35 L480.44,61.72 L481.72,61.08 L483.00,60.44 L484.27,59.79 L485.55,59.14 L486.82,58.48 L488.08,57.82 L489.35,57.16 L490.61,56.50 L491.87,55.83 L493.13,55.16 L494.40,54.50 L495.66,53.83 L496.92,53.17 L498.18,52.51 L499.45,51.85 L500.72,51.20 L501.99,50.55 L503.26,49.91 L504.54,49.27 L505.82,48.64 L507.11,48.03 L508.40,47.42 L509.70,46.82 L511.01,46.23 L512.32,45.65 L513.64,45.09 L514.96,44.54 L516.30,44.00" fill="none" stroke="#ff28ff" stroke-width="1.6" stroke-linejoin="round" stroke-linecap="round"/>
<path d="M315.70,172.20 L315.91,170.86 L316.09,169.51 L316.27,168.15 L316.44,166.78 L316.60,165.40 L316.76,164.00 L316.93,162.60 L317.11,161.19 L317.30,159.76 L317.51,158.33 L317.74,156.89 L318.00,155.44 L318.29,153.98 L318.62,152.52 L318.99,151.04 L319.39,149.57 L319.84,148.10 L320.32,146.65 L320.85,145.21 L321.42,143.79 L322.02,142.40 L322.67,141.05 L323.36,139.74 L324.09,138.47 L324.86,137.25 L325.67,136.09 L326.53,134.99 L327.42,133.94 L328.36,132.95 L329.33,132.01 L330.34,131.13 L331.38,130.29 L332.45,129.50 L333.56,128.76 L334.70,128.05 L335.86,127.39 L337.05,126.77 L338.27,126.18 L339.52,125.63 L340.78,125.11 L342.07,124.61 L343.38,124.15 L344.70,123.71 L346.05,123.30 L347.40,122.91 L348.78,122.53 L350.16,122.18 L351.56,121.84 L352.97,121.51 L354.38,121.20 L355.81,120.89 L357.24,120.59 L358.67,120.29 L360.11,120.00 L361.54,119.71 L362.98,119.41 L364.41,119.12 L365.85,118.81 L367.28,118.50 L368.70,118.18 L370.11,117.85 L371.53,117.51 L372.93,117.16 L374.33,116.80 L375.73,116.43 L377.11,116.06 L378.50,115.67 L379.88,115.28 L381.25,114.88 L382.62,114.47 L383.99,114.05 L385.35,113.62 L386.71,113.19 L388.06,112.75 L389.41,112.30 L390.76,111.85 L392.10,111.39 L393.44,110.92 L394.77,110.45 L396.11,109.97 L397.44,109.48 L398.76,108.99 L400.09,108.49 L401.41,107.99 L402.72,107.49 L404.04,106.97 L405.35,106.46 L406.66,105.94 L407.97,105.41 L409.28,104.89 L410.59,104.35 L411.89,103.82 L413.19,103.28 L414.50,102.74 L415.80,102.19 L417.09,101.65 L418.39,101.10 L419.69,100.54 L420.99,99.99 L422.28,99.43 L423.58,98.87 L424.88,98.31 L426.17,97.75 L427.47,97.19 L428.76,96.63 L430.06,96.07 L431.36,95.50 L432.65,94.94 L433.95,94.37 L435.25,93.81 L436.55,93.24 L437.85,92.68 L439.16,92.12 L440.46,91.56 L441.77,91.00 L443.07,90.44 L444.38,89.88 L445.69,89.32 L447.01,88.77 L448.32,88.21 L449.64,87.66 L450.95,87.11 L452.27,86.56 L453.59,86.01 L454.91,85.47 L456.24,84.92 L457.56,84.37 L458.88,83.83 L460.21,83.28 L461.53,82.74 L462.86,82.20 L464.18,81.66 L465.51,81.11 L466.84,80.57 L468.17,80.03 L469.49,79.49 L470.82,78.94 L472.15,78.40 L473.48,77.86 L474.80,77.32 L476.13,76.77 L477.45,76.23 L478.78,75.69 L480.11,75.14 L481.43,74.60 L482.75,74.05 L484.07,73.50 L485.40,72.96 L486.72,72.41 L488.03,71.86 L489.35,71.31 L490.67,70.76 L491.98,70.20 L493.30,69.65 L494.61,69.09 L495.92,68.53 L497.22,67.97 L498.53,67.41 L499.83,66.85 L501.13,66.28 L502.43,65.71 L503.73,65.14 L505.02,64.57 L506.31,64.00 L507.60,63.42 L508.89,62.84 L510.17,62.26 L511.45,61.68 L512.73,61.09 L514.00,60.50" fill="none" stroke="#1f8a1f" stroke-width="1.6" stroke-linejoin="round" stroke-linecap="round"/>
<rect x="405.8" y="114.9" width="137.9" height="54.5" fill="#fff" stroke="#c8c8c8" stroke-width="0.8"/>
<line x1="415.20" y1="124.00" x2="432.20" y2="124.00" stroke="#111111" stroke-width="1.6" />
<text x="434.80" y="127.10" font-size="7.2" text-anchor="start" font-weight="bold" fill="#222" stroke="#222" stroke-width="0.2" textLength="10.20" lengthAdjust="spacingAndGlyphs" >210</text>
<circle cx="446.20" cy="123.10" r="0.85" fill="none" stroke="#333" stroke-width="0.6"/>
<text x="447.10" y="127.10" font-size="6.6" text-anchor="start" font-weight="normal" fill="#333" stroke="#333" stroke-width="0.1" textLength="4.30" lengthAdjust="spacingAndGlyphs" >C</text>
<text x="451.90" y="127.10" font-size="7.2" text-anchor="start" font-weight="bold" fill="#222" stroke="#222" stroke-width="0.2" textLength="15.40" lengthAdjust="spacingAndGlyphs" >-80%</text>
<text x="468.80" y="127.10" font-size="6.7" text-anchor="start" font-weight="bold" fill="#222" stroke="#222" stroke-width="0.2" textLength="70.20" lengthAdjust="spacingAndGlyphs" >printing fill percentage</text>
<line x1="415.20" y1="134.20" x2="432.20" y2="134.20" stroke="#ff1414" stroke-width="1.6" />
<text x="434.80" y="137.30" font-size="7.2" text-anchor="start" font-weight="bold" fill="#222" stroke="#222" stroke-width="0.2" textLength="10.20" lengthAdjust="spacingAndGlyphs" >215</text>
<circle cx="446.20" cy="133.30" r="0.85" fill="none" stroke="#333" stroke-width="0.6"/>
<text x="447.10" y="137.30" font-size="6.6" text-anchor="start" font-weight="normal" fill="#333" stroke="#333" stroke-width="0.1" textLength="4.30" lengthAdjust="spacingAndGlyphs" >C</text>
<text x="451.90" y="137.30" font-size="7.2" text-anchor="start" font-weight="bold" fill="#222" stroke="#222" stroke-width="0.2" textLength="15.40" lengthAdjust="spacingAndGlyphs" >-80%</text>
<text x="468.80" y="137.30" font-size="6.7" text-anchor="start" font-weight="bold" fill="#222" stroke="#222" stroke-width="0.2" textLength="70.20" lengthAdjust="spacingAndGlyphs" >printing fill percentage</text>
<line x1="415.20" y1="144.40" x2="432.20" y2="144.40" stroke="#2828ff" stroke-width="1.6" />
<text x="434.80" y="147.50" font-size="7.2" text-anchor="start" font-weight="bold" fill="#222" stroke="#222" stroke-width="0.2" textLength="10.20" lengthAdjust="spacingAndGlyphs" >220</text>
<circle cx="446.20" cy="143.50" r="0.85" fill="none" stroke="#333" stroke-width="0.6"/>
<text x="447.10" y="147.50" font-size="6.6" text-anchor="start" font-weight="normal" fill="#333" stroke="#333" stroke-width="0.1" textLength="4.30" lengthAdjust="spacingAndGlyphs" >C</text>
<text x="451.90" y="147.50" font-size="7.2" text-anchor="start" font-weight="bold" fill="#222" stroke="#222" stroke-width="0.2" textLength="15.40" lengthAdjust="spacingAndGlyphs" >-80%</text>
<text x="468.80" y="147.50" font-size="6.7" text-anchor="start" font-weight="bold" fill="#222" stroke="#222" stroke-width="0.2" textLength="70.20" lengthAdjust="spacingAndGlyphs" >printing fill percentage</text>
<line x1="415.20" y1="154.60" x2="432.20" y2="154.60" stroke="#ff28ff" stroke-width="1.6" />
<text x="434.80" y="157.70" font-size="7.2" text-anchor="start" font-weight="bold" fill="#222" stroke="#222" stroke-width="0.2" textLength="10.20" lengthAdjust="spacingAndGlyphs" >225</text>
<circle cx="446.20" cy="153.70" r="0.85" fill="none" stroke="#333" stroke-width="0.6"/>
<text x="447.10" y="157.70" font-size="6.6" text-anchor="start" font-weight="normal" fill="#333" stroke="#333" stroke-width="0.1" textLength="4.30" lengthAdjust="spacingAndGlyphs" >C</text>
<text x="451.90" y="157.70" font-size="7.2" text-anchor="start" font-weight="bold" fill="#222" stroke="#222" stroke-width="0.2" textLength="15.40" lengthAdjust="spacingAndGlyphs" >-80%</text>
<text x="468.80" y="157.70" font-size="6.7" text-anchor="start" font-weight="bold" fill="#222" stroke="#222" stroke-width="0.2" textLength="70.20" lengthAdjust="spacingAndGlyphs" >printing fill percentage</text>
<line x1="415.20" y1="164.80" x2="432.20" y2="164.80" stroke="#1f8a1f" stroke-width="1.6" />
<text x="434.80" y="167.90" font-size="7.2" text-anchor="start" font-weight="bold" fill="#222" stroke="#222" stroke-width="0.2" textLength="10.20" lengthAdjust="spacingAndGlyphs" >230</text>
<circle cx="446.20" cy="163.90" r="0.85" fill="none" stroke="#333" stroke-width="0.6"/>
<text x="447.10" y="167.90" font-size="6.6" text-anchor="start" font-weight="normal" fill="#333" stroke="#333" stroke-width="0.1" textLength="4.30" lengthAdjust="spacingAndGlyphs" >C</text>
<text x="451.90" y="167.90" font-size="7.2" text-anchor="start" font-weight="bold" fill="#222" stroke="#222" stroke-width="0.2" textLength="15.40" lengthAdjust="spacingAndGlyphs" >-80%</text>
<text x="468.80" y="167.90" font-size="6.7" text-anchor="start" font-weight="bold" fill="#222" stroke="#222" stroke-width="0.2" textLength="70.20" lengthAdjust="spacingAndGlyphs" >printing fill percentage</text>
<rect x="43.90" y="222.90" width="232.70" height="166.60" fill="none" stroke="#262626" stroke-width="1.7"/>
<line x1="43.90" y1="389.50" x2="43.90" y2="392.80" stroke="#262626" stroke-width="1.4" />
<text x="43.90" y="401.60" font-size="7.9" text-anchor="middle" font-weight="bold" fill="#222" stroke="#222" stroke-width="0.3" >0</text>
<line x1="65.05" y1="389.50" x2="65.05" y2="391.10" stroke="#262626" stroke-width="1.4" />
<line x1="86.21" y1="389.50" x2="86.21" y2="392.80" stroke="#262626" stroke-width="1.4" />
<text x="86.21" y="401.60" font-size="7.9" text-anchor="middle" font-weight="bold" fill="#222" stroke="#222" stroke-width="0.3" >100</text>
<line x1="107.36" y1="389.50" x2="107.36" y2="391.10" stroke="#262626" stroke-width="1.4" />
<line x1="128.52" y1="389.50" x2="128.52" y2="392.80" stroke="#262626" stroke-width="1.4" />
<text x="128.52" y="401.60" font-size="7.9" text-anchor="middle" font-weight="bold" fill="#222" stroke="#222" stroke-width="0.3" >200</text>
<line x1="149.67" y1="389.50" x2="149.67" y2="391.10" stroke="#262626" stroke-width="1.4" />
<line x1="170.83" y1="389.50" x2="170.83" y2="392.80" stroke="#262626" stroke-width="1.4" />
<text x="170.83" y="401.60" font-size="7.9" text-anchor="middle" font-weight="bold" fill="#222" stroke="#222" stroke-width="0.3" >300</text>
<line x1="191.98" y1="389.50" x2="191.98" y2="391.10" stroke="#262626" stroke-width="1.4" />
<line x1="213.14" y1="389.50" x2="213.14" y2="392.80" stroke="#262626" stroke-width="1.4" />
<text x="213.14" y="401.60" font-size="7.9" text-anchor="middle" font-weight="bold" fill="#222" stroke="#222" stroke-width="0.3" >400</text>
<line x1="234.29" y1="389.50" x2="234.29" y2="391.10" stroke="#262626" stroke-width="1.4" />
<line x1="255.45" y1="389.50" x2="255.45" y2="392.80" stroke="#262626" stroke-width="1.4" />
<text x="255.45" y="401.60" font-size="7.9" text-anchor="middle" font-weight="bold" fill="#222" stroke="#222" stroke-width="0.3" >500</text>
<line x1="276.60" y1="389.50" x2="276.60" y2="391.10" stroke="#262626" stroke-width="1.4" />
<line x1="43.90" y1="389.50" x2="40.60" y2="389.50" stroke="#262626" stroke-width="1.4" />
<text x="37.90" y="391.90" font-size="7.9" text-anchor="end" font-weight="bold" fill="#222" stroke="#222" stroke-width="0.3" >0</text>
<line x1="43.90" y1="378.39" x2="42.30" y2="378.39" stroke="#262626" stroke-width="1.4" />
<line x1="43.90" y1="367.29" x2="40.60" y2="367.29" stroke="#262626" stroke-width="1.4" />
<text x="37.90" y="369.69" font-size="7.9" text-anchor="end" font-weight="bold" fill="#222" stroke="#222" stroke-width="0.3" >5</text>
<line x1="43.90" y1="356.18" x2="42.30" y2="356.18" stroke="#262626" stroke-width="1.4" />
<line x1="43.90" y1="345.07" x2="40.60" y2="345.07" stroke="#262626" stroke-width="1.4" />
<text x="37.90" y="347.47" font-size="7.9" text-anchor="end" font-weight="bold" fill="#222" stroke="#222" stroke-width="0.3" >10</text>
<line x1="43.90" y1="333.97" x2="42.30" y2="333.97" stroke="#262626" stroke-width="1.4" />
<line x1="43.90" y1="322.86" x2="40.60" y2="322.86" stroke="#262626" stroke-width="1.4" />
<text x="37.90" y="325.26" font-size="7.9" text-anchor="end" font-weight="bold" fill="#222" stroke="#222" stroke-width="0.3" >15</text>
<line x1="43.90" y1="311.75" x2="42.30" y2="311.75" stroke="#262626" stroke-width="1.4" />
<line x1="43.90" y1="300.65" x2="40.60" y2="300.65" stroke="#262626" stroke-width="1.4" />
<text x="37.90" y="303.05" font-size="7.9" text-anchor="end" font-weight="bold" fill="#222" stroke="#222" stroke-width="0.3" >20</text>
<line x1="43.90" y1="289.54" x2="42.30" y2="289.54" stroke="#262626" stroke-width="1.4" />
<line x1="43.90" y1="278.43" x2="40.60" y2="278.43" stroke="#262626" stroke-width="1.4" />
<text x="37.90" y="280.83" font-size="7.9" text-anchor="end" font-weight="bold" fill="#222" stroke="#222" stroke-width="0.3" >25</text>
<line x1="43.90" y1="267.33" x2="42.30" y2="267.33" stroke="#262626" stroke-width="1.4" />
<line x1="43.90" y1="256.22" x2="40.60" y2="256.22" stroke="#262626" stroke-width="1.4" />
<text x="37.90" y="258.62" font-size="7.9" text-anchor="end" font-weight="bold" fill="#222" stroke="#222" stroke-width="0.3" >30</text>
<line x1="43.90" y1="245.11" x2="42.30" y2="245.11" stroke="#262626" stroke-width="1.4" />
<line x1="43.90" y1="234.01" x2="40.60" y2="234.01" stroke="#262626" stroke-width="1.4" />
<text x="37.90" y="236.41" font-size="7.9" text-anchor="end" font-weight="bold" fill="#222" stroke="#222" stroke-width="0.3" >35</text>
<line x1="43.90" y1="222.90" x2="42.30" y2="222.90" stroke="#262626" stroke-width="1.4" />
<text x="61.90" y="242.50" font-size="17.5" text-anchor="middle" font-weight="bold" fill="#111" stroke="#111" stroke-width="0.3" textLength="20.60" lengthAdjust="spacingAndGlyphs" >(e)</text>
<text x="160.20" y="417.70" font-size="9" text-anchor="middle" font-weight="bold" fill="#222" stroke="#222" stroke-width="0.3" textLength="42.00" lengthAdjust="spacingAndGlyphs" >Strain(%)</text>
<text x="0.00" y="0.00" font-size="9" text-anchor="middle" font-weight="bold" fill="#222" stroke="#222" stroke-width="0.3" textLength="56.20" lengthAdjust="spacingAndGlyphs" transform="translate(13.9,312.5) rotate(-90)">Stress(Mpa)</text>
<path d="M44.10,389.30 L44.18,387.89 L44.25,386.48 L44.32,385.06 L44.40,383.64 L44.48,382.21 L44.56,380.78 L44.66,379.35 L44.77,377.91 L44.89,376.48 L45.02,375.04 L45.18,373.61 L45.35,372.17 L45.55,370.74 L45.77,369.32 L46.02,367.90 L46.30,366.48 L46.62,365.07 L46.96,363.67 L47.35,362.28 L47.77,360.90 L48.23,359.53 L48.73,358.17 L49.26,356.82 L49.83,355.49 L50.44,354.18 L51.09,352.89 L51.77,351.62 L52.49,350.37 L53.24,349.14 L54.02,347.94 L54.84,346.76 L55.69,345.62 L56.58,344.50 L57.50,343.42 L58.45,342.36 L59.43,341.35 L60.44,340.37 L61.49,339.42 L62.56,338.52 L63.66,337.66 L64.80,336.83 L65.96,336.06 L67.15,335.32 L68.36,334.63 L69.60,333.98 L70.87,333.36 L72.15,332.77 L73.46,332.22 L74.78,331.70 L76.12,331.20 L77.48,330.72 L78.84,330.26 L80.22,329.83 L81.62,329.40 L83.01,328.99 L84.42,328.60 L85.83,328.21 L87.25,327.82 L88.67,327.44 L90.09,327.06 L91.50,326.67 L92.92,326.28 L94.33,325.89 L95.74,325.48 L97.14,325.06 L98.52,324.63 L99.90,324.18 L101.27,323.71 L102.63,323.22 L103.97,322.72 L105.31,322.19 L106.63,321.65 L107.94,321.09 L109.25,320.52 L110.55,319.93 L111.84,319.33 L113.12,318.72 L114.40,318.09 L115.66,317.45 L116.93,316.81 L118.19,316.15 L119.44,315.49 L120.69,314.81 L121.94,314.14 L123.18,313.45 L124.42,312.76 L125.66,312.06 L126.90,311.37 L128.13,310.66 L129.37,309.96 L130.61,309.26 L131.85,308.55 L133.09,307.85 L134.33,307.14 L135.57,306.44 L136.82,305.74 L138.07,305.05 L139.32,304.35 L140.57,303.66 L141.83,302.97 L143.08,302.28 L144.34,301.59 L145.60,300.91 L146.87,300.22 L148.13,299.54 L149.39,298.86 L150.66,298.17 L151.92,297.49 L153.19,296.81 L154.46,296.12 L155.72,295.44 L156.99,294.76 L158.26,294.07 L159.52,293.38 L160.79,292.70 L162.06,292.01 L163.32,291.32 L164.58,290.63 L165.85,289.94 L167.11,289.24 L168.37,288.54 L169.63,287.84 L170.88,287.14 L172.14,286.43 L173.39,285.72 L174.64,285.01 L175.89,284.30 L177.13,283.58 L178.38,282.85 L179.61,282.13 L180.85,281.40 L182.08,280.66 L183.31,279.92 L184.54,279.17 L185.76,278.42 L186.98,277.67 L188.19,276.91 L189.40,276.14 L190.61,275.37 L191.81,274.59 L193.00,273.81 L194.19,273.01 L195.38,272.22 L196.56,271.41 L197.73,270.60 L198.90,269.78 L200.07,268.96 L201.22,268.12 L202.37,267.28 L203.52,266.43 L204.66,265.58 L205.79,264.71 L206.91,263.84 L208.03,262.96 L209.14,262.07 L210.25,261.17 L211.34,260.26 L212.43,259.34 L213.51,258.41 L214.59,257.48 L215.65,256.53 L216.71,255.58 L217.76,254.62 L218.80,253.64 L219.83,252.66 L220.86,251.67 L221.87,250.67 L222.88,249.66 L223.87,248.64 L224.86,247.61 L225.85,246.57 L226.84,245.55 L227.84,244.53 L228.86,243.54 L229.90,242.59 L230.98,241.67 L232.09,240.80 L233.26,239.99 L234.47,239.25 L235.75,238.58 L237.10,238.00" fill="none" stroke="#111111" stroke-width="1.6" stroke-linejoin="round" stroke-linecap="round"/>
<path d="M44.10,389.30 L44.10,387.92 L44.11,386.52 L44.13,385.11 L44.17,383.69 L44.22,382.26 L44.29,380.82 L44.37,379.38 L44.48,377.93 L44.61,376.47 L44.76,375.01 L44.93,373.56 L45.13,372.10 L45.35,370.65 L45.60,369.21 L45.88,367.77 L46.19,366.34 L46.53,364.92 L46.91,363.51 L47.31,362.11 L47.76,360.73 L48.23,359.37 L48.74,358.02 L49.29,356.69 L49.87,355.38 L50.48,354.09 L51.13,352.82 L51.81,351.57 L52.52,350.35 L53.26,349.15 L54.04,347.97 L54.84,346.82 L55.68,345.70 L56.55,344.60 L57.45,343.53 L58.38,342.50 L59.34,341.49 L60.33,340.52 L61.35,339.57 L62.40,338.66 L63.47,337.79 L64.58,336.95 L65.71,336.15 L66.87,335.39 L68.06,334.66 L69.27,333.96 L70.50,333.30 L71.76,332.66 L73.04,332.05 L74.33,331.47 L75.65,330.92 L76.98,330.39 L78.32,329.87 L79.68,329.38 L81.05,328.90 L82.43,328.44 L83.82,327.99 L85.22,327.55 L86.63,327.13 L88.03,326.71 L89.45,326.29 L90.86,325.88 L92.28,325.47 L93.69,325.06 L95.10,324.65 L96.51,324.24 L97.92,323.82 L99.31,323.39 L100.70,322.96 L102.08,322.51 L103.45,322.06 L104.82,321.59 L106.18,321.12 L107.53,320.64 L108.87,320.15 L110.21,319.65 L111.54,319.14 L112.87,318.62 L114.19,318.10 L115.51,317.57 L116.83,317.03 L118.14,316.48 L119.44,315.93 L120.75,315.37 L122.05,314.80 L123.34,314.23 L124.64,313.65 L125.94,313.07 L127.23,312.48 L128.52,311.88 L129.81,311.28 L131.10,310.68 L132.38,310.07 L133.67,309.45 L134.95,308.83 L136.23,308.21 L137.51,307.58 L138.79,306.95 L140.07,306.32 L141.35,305.68 L142.63,305.04 L143.90,304.40 L145.18,303.75 L146.45,303.11 L147.72,302.45 L149.00,301.80 L150.27,301.15 L151.54,300.49 L152.81,299.84 L154.09,299.18 L155.36,298.52 L156.63,297.86 L157.90,297.20 L159.17,296.54 L160.44,295.88 L161.71,295.22 L162.99,294.55 L164.26,293.89 L165.53,293.23 L166.80,292.56 L168.06,291.90 L169.33,291.23 L170.60,290.56 L171.87,289.89 L173.14,289.22 L174.40,288.55 L175.67,287.87 L176.93,287.20 L178.19,286.52 L179.46,285.84 L180.72,285.16 L181.98,284.48 L183.24,283.80 L184.49,283.11 L185.75,282.42 L187.00,281.73 L188.26,281.04 L189.51,280.34 L190.76,279.65 L192.01,278.95 L193.26,278.24 L194.50,277.54 L195.75,276.83 L196.99,276.12 L198.23,275.40 L199.46,274.68 L200.70,273.96 L201.93,273.23 L203.15,272.50 L204.38,271.76 L205.60,271.01 L206.81,270.26 L208.02,269.51 L209.23,268.74 L210.43,267.97 L211.63,267.20 L212.82,266.41 L214.01,265.62 L215.19,264.82 L216.37,264.01 L217.54,263.19 L218.70,262.37 L219.86,261.53 L221.01,260.69 L222.16,259.83 L223.30,258.97 L224.43,258.09 L225.55,257.20 L226.67,256.31 L227.79,255.41 L228.90,254.50 L230.01,253.59 L231.12,252.68 L232.22,251.77 L233.33,250.86 L234.44,249.95 L235.56,249.05 L236.67,248.15 L237.80,247.26 L238.93,246.38 L240.06,245.50 L241.21,244.64 L242.36,243.79 L243.52,242.96 L244.70,242.14 L245.88,241.34 L247.08,240.56 L248.30,239.80" fill="none" stroke="#ff1414" stroke-width="1.6" stroke-linejoin="round" stroke-linecap="round"/>
<path d="M44.10,389.30 L44.24,387.95 L44.35,386.58 L44.45,385.19 L44.53,383.77 L44.61,382.35 L44.68,380.91 L44.76,379.46 L44.84,378.00 L44.94,376.54 L45.05,375.08 L45.18,373.62 L45.33,372.17 L45.52,370.73 L45.74,369.30 L46.00,367.88 L46.30,366.48 L46.65,365.10 L47.06,363.74 L47.52,362.42 L48.04,361.12 L48.63,359.85 L49.27,358.61 L49.96,357.39 L50.71,356.21 L51.51,355.06 L52.35,353.94 L53.23,352.84 L54.15,351.78 L55.11,350.74 L56.11,349.73 L57.13,348.76 L58.18,347.80 L59.26,346.88 L60.36,345.99 L61.47,345.12 L62.60,344.28 L63.75,343.46 L64.92,342.68 L66.09,341.91 L67.28,341.18 L68.49,340.46 L69.71,339.77 L70.94,339.09 L72.18,338.44 L73.43,337.81 L74.70,337.20 L75.97,336.60 L77.26,336.02 L78.55,335.45 L79.86,334.91 L81.17,334.37 L82.48,333.85 L83.81,333.34 L85.14,332.84 L86.48,332.35 L87.83,331.87 L89.18,331.40 L90.53,330.94 L91.89,330.48 L93.25,330.03 L94.61,329.59 L95.98,329.15 L97.35,328.71 L98.72,328.27 L100.09,327.84 L101.46,327.40 L102.83,326.97 L104.20,326.53 L105.57,326.10 L106.94,325.65 L108.31,325.21 L109.67,324.76 L111.03,324.30 L112.39,323.84 L113.74,323.37 L115.09,322.89 L116.43,322.40 L117.77,321.91 L119.11,321.41 L120.44,320.91 L121.77,320.40 L123.10,319.88 L124.42,319.35 L125.74,318.82 L127.05,318.29 L128.37,317.74 L129.68,317.19 L130.98,316.64 L132.28,316.08 L133.58,315.51 L134.88,314.94 L136.18,314.36 L137.47,313.78 L138.76,313.19 L140.04,312.60 L141.33,312.00 L142.61,311.40 L143.88,310.79 L145.16,310.18 L146.43,309.56 L147.71,308.94 L148.98,308.31 L150.24,307.68 L151.51,307.05 L152.77,306.41 L154.03,305.77 L155.29,305.12 L156.55,304.48 L157.81,303.82 L159.06,303.17 L160.31,302.51 L161.56,301.84 L162.81,301.18 L164.06,300.51 L165.31,299.83 L166.56,299.16 L167.80,298.48 L169.04,297.80 L170.29,297.12 L171.53,296.43 L172.77,295.74 L174.01,295.05 L175.25,294.36 L176.49,293.66 L177.73,292.97 L178.96,292.27 L180.20,291.57 L181.44,290.87 L182.67,290.17 L183.91,289.46 L185.14,288.76 L186.38,288.05 L187.61,287.34 L188.85,286.63 L190.08,285.92 L191.31,285.21 L192.55,284.50 L193.78,283.78 L195.01,283.07 L196.24,282.35 L197.47,281.63 L198.71,280.91 L199.94,280.19 L201.16,279.47 L202.39,278.75 L203.62,278.03 L204.85,277.31 L206.08,276.58 L207.31,275.86 L208.53,275.13 L209.76,274.41 L210.98,273.68 L212.21,272.96 L213.43,272.23 L214.66,271.50 L215.88,270.78 L217.11,270.05 L218.33,269.32 L219.55,268.59 L220.77,267.86 L221.99,267.14 L223.21,266.41 L224.43,265.68 L225.65,264.95 L226.87,264.22 L228.09,263.49 L229.31,262.76 L230.52,262.04 L231.74,261.31 L232.95,260.58 L234.17,259.85 L235.38,259.12 L236.60,258.40" fill="none" stroke="#2828ff" stroke-width="1.6" stroke-linejoin="round" stroke-linecap="round"/>
<path d="M44.10,389.30 L44.02,387.92 L43.97,386.52 L43.95,385.11 L43.96,383.70 L43.99,382.27 L44.06,380.84 L44.15,379.41 L44.27,377.97 L44.43,376.53 L44.61,375.09 L44.82,373.65 L45.06,372.21 L45.33,370.78 L45.64,369.35 L45.97,367.94 L46.34,366.53 L46.74,365.13 L47.17,363.74 L47.63,362.37 L48.12,361.02 L48.65,359.68 L49.21,358.36 L49.80,357.06 L50.42,355.78 L51.08,354.52 L51.78,353.29 L52.50,352.09 L53.26,350.91 L54.06,349.77 L54.89,348.65 L55.75,347.57 L56.65,346.52 L57.59,345.50 L58.56,344.53 L59.56,343.59 L60.61,342.69 L61.68,341.83 L62.79,341.01 L63.93,340.22 L65.10,339.46 L66.29,338.74 L67.51,338.04 L68.76,337.37 L70.02,336.73 L71.31,336.11 L72.61,335.52 L73.93,334.94 L75.27,334.39 L76.62,333.85 L77.98,333.33 L79.35,332.82 L80.74,332.32 L82.12,331.84 L83.52,331.36 L84.91,330.89 L86.31,330.43 L87.71,329.97 L89.10,329.52 L90.49,329.06 L91.88,328.61 L93.26,328.15 L94.64,327.69 L96.00,327.22 L97.36,326.75 L98.72,326.28 L100.07,325.81 L101.41,325.33 L102.75,324.85 L104.09,324.37 L105.42,323.88 L106.75,323.39 L108.08,322.90 L109.40,322.40 L110.72,321.91 L112.03,321.40 L113.35,320.90 L114.66,320.39 L115.97,319.88 L117.28,319.36 L118.59,318.84 L119.91,318.32 L121.22,317.80 L122.53,317.27 L123.84,316.73 L125.15,316.20 L126.46,315.66 L127.78,315.12 L129.09,314.57 L130.40,314.02 L131.72,313.46 L133.03,312.90 L134.34,312.34 L135.65,311.77 L136.96,311.19 L138.27,310.61 L139.57,310.03 L140.87,309.44 L142.17,308.84 L143.47,308.24 L144.76,307.63 L146.05,307.02 L147.34,306.40 L148.62,305.77 L149.90,305.14 L151.17,304.50 L152.45,303.87 L153.72,303.23 L154.99,302.59 L156.27,301.96 L157.55,301.33 L158.82,300.71 L160.11,300.09 L161.39,299.48 L162.68,298.87 L163.96,298.27 L165.25,297.67 L166.55,297.08 L167.84,296.49 L169.14,295.90 L170.43,295.32 L171.73,294.74 L173.03,294.17 L174.34,293.60 L175.64,293.03 L176.95,292.47 L178.25,291.90 L179.56,291.34 L180.87,290.79 L182.18,290.23 L183.49,289.68 L184.81,289.13 L186.12,288.58 L187.44,288.04 L188.75,287.49 L190.07,286.95 L191.39,286.41 L192.71,285.87 L194.02,285.33 L195.34,284.79 L196.66,284.25 L197.98,283.71 L199.31,283.17 L200.63,282.63 L201.95,282.08 L203.26,281.54 L204.58,281.00 L205.90,280.45 L207.22,279.90 L208.54,279.35 L209.85,278.80 L211.16,278.25 L212.48,277.69 L213.79,277.12 L215.10,276.56 L216.40,275.99 L217.71,275.41 L219.01,274.83 L220.31,274.25 L221.61,273.66 L222.91,273.07 L224.20,272.46 L225.49,271.86 L226.78,271.25 L228.06,270.64 L229.35,270.03 L230.64,269.43 L231.93,268.83 L233.23,268.25 L234.53,267.67 L235.84,267.11 L237.15,266.56 L238.47,266.04 L239.81,265.53 L241.15,265.05 L242.50,264.60" fill="none" stroke="#ff28ff" stroke-width="1.6" stroke-linejoin="round" stroke-linecap="round"/>
<rect x="118.4" y="343.4" width="157.2" height="42.5" fill="#fff" stroke="#c8c8c8" stroke-width="0.8"/>
<line x1="126.30" y1="350.30" x2="143.50" y2="350.30" stroke="#111111" stroke-width="1.6" />
<text x="145.90" y="353.50" font-size="7.2" text-anchor="start" font-weight="bold" fill="#222" stroke="#222" stroke-width="0.2" textLength="10.20" lengthAdjust="spacingAndGlyphs" >210</text>
<circle cx="157.30" cy="349.50" r="0.85" fill="none" stroke="#333" stroke-width="0.6"/>
<text x="158.20" y="353.50" font-size="6.6" text-anchor="start" font-weight="normal" fill="#333" stroke="#333" stroke-width="0.1" textLength="4.30" lengthAdjust="spacingAndGlyphs" >C</text>
<text x="163.00" y="353.50" font-size="7.2" text-anchor="start" font-weight="bold" fill="#222" stroke="#222" stroke-width="0.2" textLength="19.40" lengthAdjust="spacingAndGlyphs" >-100%</text>
<text x="184.30" y="353.50" font-size="8" text-anchor="start" font-weight="bold" fill="#222" stroke="#222" stroke-width="0.25" textLength="86.30" lengthAdjust="spacingAndGlyphs" >printing fill percentage</text>
<line x1="126.30" y1="360.70" x2="143.50" y2="360.70" stroke="#ff1414" stroke-width="1.6" />
<text x="145.90" y="363.90" font-size="7.2" text-anchor="start" font-weight="bold" fill="#222" stroke="#222" stroke-width="0.2" textLength="10.20" lengthAdjust="spacingAndGlyphs" >215</text>
<circle cx="157.30" cy="359.90" r="0.85" fill="none" stroke="#333" stroke-width="0.6"/>
<text x="158.20" y="363.90" font-size="6.6" text-anchor="start" font-weight="normal" fill="#333" stroke="#333" stroke-width="0.1" textLength="4.30" lengthAdjust="spacingAndGlyphs" >C</text>
<text x="163.00" y="363.90" font-size="7.2" text-anchor="start" font-weight="bold" fill="#222" stroke="#222" stroke-width="0.2" textLength="19.40" lengthAdjust="spacingAndGlyphs" >-100%</text>
<text x="184.30" y="363.90" font-size="8" text-anchor="start" font-weight="bold" fill="#222" stroke="#222" stroke-width="0.25" textLength="86.30" lengthAdjust="spacingAndGlyphs" >printing fill percentage</text>
<line x1="126.30" y1="371.10" x2="143.50" y2="371.10" stroke="#2828ff" stroke-width="1.6" />
<text x="145.90" y="374.30" font-size="7.2" text-anchor="start" font-weight="bold" fill="#222" stroke="#222" stroke-width="0.2" textLength="10.20" lengthAdjust="spacingAndGlyphs" >220</text>
<circle cx="157.30" cy="370.30" r="0.85" fill="none" stroke="#333" stroke-width="0.6"/>
<text x="158.20" y="374.30" font-size="6.6" text-anchor="start" font-weight="normal" fill="#333" stroke="#333" stroke-width="0.1" textLength="4.30" lengthAdjust="spacingAndGlyphs" >C</text>
<text x="163.00" y="374.30" font-size="7.2" text-anchor="start" font-weight="bold" fill="#222" stroke="#222" stroke-width="0.2" textLength="19.40" lengthAdjust="spacingAndGlyphs" >-100%</text>
<text x="184.30" y="374.30" font-size="8" text-anchor="start" font-weight="bold" fill="#222" stroke="#222" stroke-width="0.25" textLength="86.30" lengthAdjust="spacingAndGlyphs" >printing fill percentage</text>
<line x1="126.30" y1="381.50" x2="143.50" y2="381.50" stroke="#ff28ff" stroke-width="1.6" />
<text x="145.90" y="384.70" font-size="7.2" text-anchor="start" font-weight="bold" fill="#222" stroke="#222" stroke-width="0.2" textLength="10.20" lengthAdjust="spacingAndGlyphs" >225</text>
<circle cx="157.30" cy="380.70" r="0.85" fill="none" stroke="#333" stroke-width="0.6"/>
<text x="158.20" y="384.70" font-size="6.6" text-anchor="start" font-weight="normal" fill="#333" stroke="#333" stroke-width="0.1" textLength="4.30" lengthAdjust="spacingAndGlyphs" >C</text>
<text x="163.00" y="384.70" font-size="7.2" text-anchor="start" font-weight="bold" fill="#222" stroke="#222" stroke-width="0.2" textLength="19.40" lengthAdjust="spacingAndGlyphs" >-100%</text>
<text x="184.30" y="384.70" font-size="8" text-anchor="start" font-weight="bold" fill="#222" stroke="#222" stroke-width="0.25" textLength="86.30" lengthAdjust="spacingAndGlyphs" >printing fill percentage</text>
<rect x="316.90" y="225.30" width="226.40" height="162.90" fill="none" stroke="#262626" stroke-width="1.7"/>
<line x1="316.90" y1="388.20" x2="316.90" y2="389.80" stroke="#262626" stroke-width="1.4" />
<line x1="339.54" y1="388.20" x2="339.54" y2="391.50" stroke="#262626" stroke-width="1.4" />
<text x="339.54" y="402.30" font-size="9" text-anchor="middle" font-weight="bold" fill="#222" stroke="#222" stroke-width="0.3" >210</text>
<line x1="362.18" y1="388.20" x2="362.18" y2="389.80" stroke="#262626" stroke-width="1.4" />
<line x1="384.82" y1="388.20" x2="384.82" y2="391.50" stroke="#262626" stroke-width="1.4" />
<text x="384.82" y="402.30" font-size="9" text-anchor="middle" font-weight="bold" fill="#222" stroke="#222" stroke-width="0.3" >215</text>
<line x1="407.46" y1="388.20" x2="407.46" y2="389.80" stroke="#262626" stroke-width="1.4" />
<line x1="430.10" y1="388.20" x2="430.10" y2="391.50" stroke="#262626" stroke-width="1.4" />
<text x="430.10" y="402.30" font-size="9" text-anchor="middle" font-weight="bold" fill="#222" stroke="#222" stroke-width="0.3" >220</text>
<line x1="452.74" y1="388.20" x2="452.74" y2="389.80" stroke="#262626" stroke-width="1.4" />
<line x1="475.38" y1="388.20" x2="475.38" y2="391.50" stroke="#262626" stroke-width="1.4" />
<text x="475.38" y="402.30" font-size="9" text-anchor="middle" font-weight="bold" fill="#222" stroke="#222" stroke-width="0.3" >225</text>
<line x1="498.02" y1="388.20" x2="498.02" y2="389.80" stroke="#262626" stroke-width="1.4" />
<line x1="520.66" y1="388.20" x2="520.66" y2="391.50" stroke="#262626" stroke-width="1.4" />
<text x="520.66" y="402.30" font-size="9" text-anchor="middle" font-weight="bold" fill="#222" stroke="#222" stroke-width="0.3" >230</text>
<line x1="543.30" y1="388.20" x2="543.30" y2="389.80" stroke="#262626" stroke-width="1.4" />
<line x1="316.90" y1="388.20" x2="313.60" y2="388.20" stroke="#262626" stroke-width="1.4" />
<text x="310.30" y="391.20" font-size="9" text-anchor="end" font-weight="bold" fill="#222" stroke="#222" stroke-width="0.3" >20</text>
<line x1="316.90" y1="380.06" x2="315.30" y2="380.06" stroke="#262626" stroke-width="1.4" />
<line x1="316.90" y1="371.91" x2="313.60" y2="371.91" stroke="#262626" stroke-width="1.4" />
<text x="310.30" y="374.91" font-size="9" text-anchor="end" font-weight="bold" fill="#222" stroke="#222" stroke-width="0.3" >22</text>
<line x1="316.90" y1="363.76" x2="315.30" y2="363.76" stroke="#262626" stroke-width="1.4" />
<line x1="316.90" y1="355.62" x2="313.60" y2="355.62" stroke="#262626" stroke-width="1.4" />
<text x="310.30" y="358.62" font-size="9" text-anchor="end" font-weight="bold" fill="#222" stroke="#222" stroke-width="0.3" >24</text>
<line x1="316.90" y1="347.48" x2="315.30" y2="347.48" stroke="#262626" stroke-width="1.4" />
<line x1="316.90" y1="339.33" x2="313.60" y2="339.33" stroke="#262626" stroke-width="1.4" />
<text x="310.30" y="342.33" font-size="9" text-anchor="end" font-weight="bold" fill="#222" stroke="#222" stroke-width="0.3" >26</text>
<line x1="316.90" y1="331.19" x2="315.30" y2="331.19" stroke="#262626" stroke-width="1.4" />
<line x1="316.90" y1="323.04" x2="313.60" y2="323.04" stroke="#262626" stroke-width="1.4" />
<text x="310.30" y="326.04" font-size="9" text-anchor="end" font-weight="bold" fill="#222" stroke="#222" stroke-width="0.3" >28</text>
<line x1="316.90" y1="314.89" x2="315.30" y2="314.89" stroke="#262626" stroke-width="1.4" />
<line x1="316.90" y1="306.75" x2="313.60" y2="306.75" stroke="#262626" stroke-width="1.4" />
<text x="310.30" y="309.75" font-size="9" text-anchor="end" font-weight="bold" fill="#222" stroke="#222" stroke-width="0.3" >30</text>
<line x1="316.90" y1="298.61" x2="315.30" y2="298.61" stroke="#262626" stroke-width="1.4" />
<line x1="316.90" y1="290.46" x2="313.60" y2="290.46" stroke="#262626" stroke-width="1.4" />
<text x="310.30" y="293.46" font-size="9" text-anchor="end" font-weight="bold" fill="#222" stroke="#222" stroke-width="0.3" >32</text>
<line x1="316.90" y1="282.31" x2="315.30" y2="282.31" stroke="#262626" stroke-width="1.4" />
<line x1="316.90" y1="274.17" x2="313.60" y2="274.17" stroke="#262626" stroke-width="1.4" />
<text x="310.30" y="277.17" font-size="9" text-anchor="end" font-weight="bold" fill="#222" stroke="#222" stroke-width="0.3" >34</text>
<line x1="316.90" y1="266.02" x2="315.30" y2="266.02" stroke="#262626" stroke-width="1.4" />
<line x1="316.90" y1="257.88" x2="313.60" y2="257.88" stroke="#262626" stroke-width="1.4" />
<text x="310.30" y="260.88" font-size="9" text-anchor="end" font-weight="bold" fill="#222" stroke="#222" stroke-width="0.3" >36</text>
<line x1="316.90" y1="249.73" x2="315.30" y2="249.73" stroke="#262626" stroke-width="1.4" />
<line x1="316.90" y1="241.59" x2="313.60" y2="241.59" stroke="#262626" stroke-width="1.4" />
<text x="310.30" y="244.59" font-size="9" text-anchor="end" font-weight="bold" fill="#222" stroke="#222" stroke-width="0.3" >38</text>
<line x1="316.90" y1="233.44" x2="315.30" y2="233.44" stroke="#262626" stroke-width="1.4" />
<line x1="316.90" y1="225.30" x2="313.60" y2="225.30" stroke="#262626" stroke-width="1.4" />
<text x="310.30" y="228.30" font-size="9" text-anchor="end" font-weight="bold" fill="#222" stroke="#222" stroke-width="0.3" >40</text>
<text x="329.95" y="244.10" font-size="16.5" text-anchor="middle" font-weight="bold" fill="#111" stroke="#111" stroke-width="0.3" textLength="16.30" lengthAdjust="spacingAndGlyphs" >(f)</text>
<text x="368.60" y="418.00" font-size="9" text-anchor="start" font-weight="bold" fill="#222" stroke="#222" stroke-width="0.3" textLength="109.20" lengthAdjust="spacingAndGlyphs" >3D printing temperature(</text>
<circle cx="478.9" cy="412.9" r="1.05" fill="none" stroke="#333" stroke-width="0.75"/>
<text x="480.30" y="418.00" font-size="8.4" text-anchor="start" font-weight="normal" fill="#333" stroke="#333" stroke-width="0.3" textLength="6.30" lengthAdjust="spacingAndGlyphs" >C</text>
<text x="487.90" y="418.00" font-size="9" text-anchor="start" font-weight="bold" fill="#222" stroke="#222" stroke-width="0.3" textLength="3.20" lengthAdjust="spacingAndGlyphs" >)</text>
<text x="0.00" y="0.00" font-size="9" text-anchor="middle" font-weight="bold" fill="#222" stroke="#222" stroke-width="0.3" textLength="55.50" lengthAdjust="spacingAndGlyphs" transform="translate(288.6,312.85) rotate(-90)">Stress(Mpa)</text>
<path d="M339.54,342.59 L384.82,329.07 L430.10,364.82 L475.38,370.12 L520.66,367.67" fill="none" stroke="#111111" stroke-width="1.4" stroke-linejoin="round" stroke-linecap="round"/>
<rect x="337.19" y="340.24" width="4.70" height="4.70" fill="#111111"/>
<rect x="382.47" y="326.72" width="4.70" height="4.70" fill="#111111"/>
<rect x="427.75" y="362.47" width="4.70" height="4.70" fill="#111111"/>
<rect x="473.03" y="367.77" width="4.70" height="4.70" fill="#111111"/>
<rect x="518.31" y="365.32" width="4.70" height="4.70" fill="#111111"/>
<path d="M339.54,334.93 L384.82,331.19 L430.10,353.58 L475.38,361.73 L520.66,371.26" fill="none" stroke="#ff1414" stroke-width="1.4" stroke-linejoin="round" stroke-linecap="round"/>
<circle cx="339.54" cy="334.93" r="2.59" fill="#ff1414"/>
<circle cx="384.82" cy="331.19" r="2.59" fill="#ff1414"/>
<circle cx="430.10" cy="353.58" r="2.59" fill="#ff1414"/>
<circle cx="475.38" cy="361.73" r="2.59" fill="#ff1414"/>
<circle cx="520.66" cy="371.26" r="2.59" fill="#ff1414"/>
<path d="M339.54,319.29 L384.82,323.61 L430.10,354.48 L475.38,362.14 L520.66,370.12" fill="none" stroke="#2828ff" stroke-width="1.4" stroke-linejoin="round" stroke-linecap="round"/>
<path d="M339.54,316.24 L342.36,321.41 L336.72,321.41Z" fill="#2828ff"/>
<path d="M384.82,320.56 L387.64,325.73 L382.00,325.73Z" fill="#2828ff"/>
<path d="M430.10,351.42 L432.92,356.59 L427.28,356.59Z" fill="#2828ff"/>
<path d="M475.38,359.08 L478.20,364.25 L472.56,364.25Z" fill="#2828ff"/>
<path d="M520.66,367.06 L523.48,372.23 L517.84,372.23Z" fill="#2828ff"/>
<path d="M339.54,290.05 L384.82,320.03 L430.10,312.29 L475.38,315.30 L520.66,344.14" fill="none" stroke="#ff28ff" stroke-width="1.4" stroke-linejoin="round" stroke-linecap="round"/>
<path d="M339.54,293.11 L342.36,287.94 L336.72,287.94Z" fill="#ff28ff"/>
<path d="M384.82,323.08 L387.64,317.91 L382.00,317.91Z" fill="#ff28ff"/>
<path d="M430.10,315.34 L432.92,310.17 L427.28,310.17Z" fill="#ff28ff"/>
<path d="M475.38,318.36 L478.20,313.19 L472.56,313.19Z" fill="#ff28ff"/>
<path d="M520.66,347.19 L523.48,342.02 L517.84,342.02Z" fill="#ff28ff"/>
<path d="M339.54,269.77 L384.82,275.88 L430.10,305.20 L475.38,301.13" fill="none" stroke="#1f8a1f" stroke-width="1.4" stroke-linejoin="round" stroke-linecap="round"/>
<path d="M339.54,266.72 L342.36,269.77 L339.54,272.83 L336.72,269.77Z" fill="#1f8a1f"/>
<path d="M384.82,272.83 L387.64,275.88 L384.82,278.94 L382.00,275.88Z" fill="#1f8a1f"/>
<path d="M430.10,302.15 L432.92,305.20 L430.10,308.26 L427.28,305.20Z" fill="#1f8a1f"/>
<path d="M475.38,298.07 L478.20,301.13 L475.38,304.18 L472.56,301.13Z" fill="#1f8a1f"/>
<rect x="406.6" y="227.8" width="135.9" height="47.9" fill="#fff" stroke="#c8c8c8" stroke-width="0.8"/>
<line x1="415.20" y1="235.60" x2="430.10" y2="235.60" stroke="#111111" stroke-width="1.4" />
<rect x="420.60" y="233.60" width="4.00" height="4.00" fill="#111111"/>
<text x="432.30" y="238.90" font-size="7.2" text-anchor="start" font-weight="bold" fill="#222" stroke="#222" stroke-width="0.2" textLength="102.20" lengthAdjust="spacingAndGlyphs" >3D printing fill percentage-20%</text>
<line x1="415.20" y1="244.60" x2="430.10" y2="244.60" stroke="#ff1414" stroke-width="1.4" />
<circle cx="422.60" cy="244.60" r="2.20" fill="#ff1414"/>
<text x="432.30" y="247.90" font-size="7.2" text-anchor="start" font-weight="bold" fill="#222" stroke="#222" stroke-width="0.2" textLength="102.20" lengthAdjust="spacingAndGlyphs" >3D printing fill percentage-40%</text>
<line x1="415.20" y1="253.60" x2="430.10" y2="253.60" stroke="#2828ff" stroke-width="1.4" />
<path d="M422.60,251.00 L425.00,255.40 L420.20,255.40Z" fill="#2828ff"/>
<text x="432.30" y="256.90" font-size="7.2" text-anchor="start" font-weight="bold" fill="#222" stroke="#222" stroke-width="0.2" textLength="102.20" lengthAdjust="spacingAndGlyphs" >3D printing fill percentage-60%</text>
<line x1="415.20" y1="262.60" x2="430.10" y2="262.60" stroke="#ff28ff" stroke-width="1.4" />
<path d="M422.60,265.20 L425.00,260.80 L420.20,260.80Z" fill="#ff28ff"/>
<text x="432.30" y="265.90" font-size="7.2" text-anchor="start" font-weight="bold" fill="#222" stroke="#222" stroke-width="0.2" textLength="102.20" lengthAdjust="spacingAndGlyphs" >3D printing fill percentage-80%</text>
<line x1="415.20" y1="271.60" x2="430.10" y2="271.60" stroke="#1f8a1f" stroke-width="1.4" />
<path d="M422.60,269.00 L425.00,271.60 L422.60,274.20 L420.20,271.60Z" fill="#1f8a1f"/>
<text x="432.30" y="274.90" font-size="7.2" text-anchor="start" font-weight="bold" fill="#222" stroke="#222" stroke-width="0.2" textLength="105.50" lengthAdjust="spacingAndGlyphs" >3D printing fill percentage-100%</text>
</svg></body></html>
